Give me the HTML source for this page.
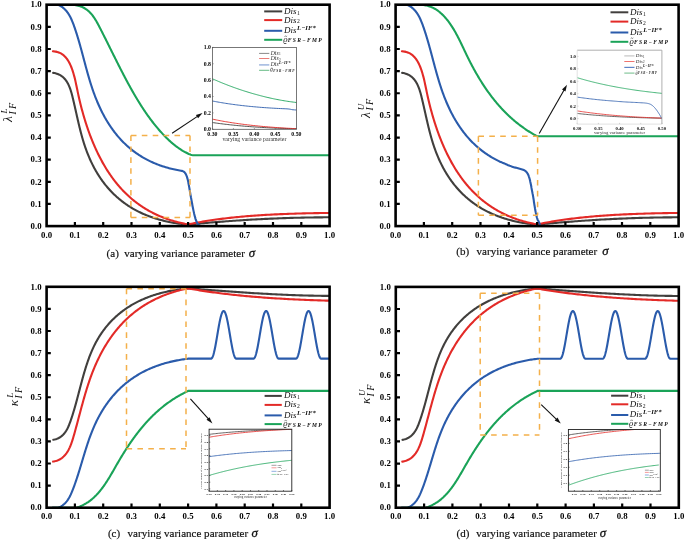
<!DOCTYPE html>
<html><head><meta charset="utf-8"><title>figure</title><style>
html,body{margin:0;padding:0;background:#fff;overflow:hidden;}
svg{display:block;}
text{font-family:"Liberation Serif","DejaVu Serif",serif;fill:#111;}
.tk{font-weight:bold;font-size:8.8px;fill:#000;}
.itk{font-weight:bold;fill:#000;}
.lg{font-style:italic;}
.yl{font-style:italic;font-size:13.5px;}
.cap{font-size:11px;fill:#111;stroke:#111;stroke-width:0.18px;}
.sig{font-style:italic;font-size:12.8px;stroke-width:0.3px;}
.ixl{fill:#333;}
.ilg{font-style:italic;fill:#222;}
</style></head><body><svg width="685" height="541" viewBox="0 0 685 541">
<rect width="685" height="541" fill="#fff"/>
<clipPath id="clipa"><rect x="46.60" y="4.70" width="283.00" height="221.40"/></clipPath>
<g clip-path="url(#clipa)" fill="none" stroke-width="2.1" stroke-linejoin="round" stroke-linecap="round">
<path stroke="#413f3d" d="M53.13 72.87L54.36 73.08L55.54 73.34L56.67 73.66L57.74 74.03L58.75 74.45L59.72 74.92L60.64 75.44L61.52 76.01L62.35 76.62L63.13 77.28L63.88 77.97L64.58 78.71L65.25 79.48L65.88 80.29L66.47 81.14L67.04 82.01L67.57 82.92L68.07 83.86L68.55 84.82L69.00 85.81L69.43 86.83L69.83 87.86L70.22 88.92L70.58 89.99L70.93 91.08L71.27 92.19L71.59 93.31L71.90 94.44L72.19 95.59L72.48 96.74L72.77 97.89L73.05 99.05L73.32 100.22L73.60 101.39L73.87 102.55L74.14 103.72L74.41 104.90L74.68 106.07L74.94 107.24L75.21 108.42L75.47 109.60L75.74 110.77L76.00 111.95L76.27 113.13L76.53 114.30L76.79 115.48L77.06 116.65L77.33 117.83L77.59 119.00L77.86 120.17L78.13 121.34L78.40 122.51L78.68 123.68L78.95 124.84L79.23 126.01L79.51 127.16L79.80 128.32L80.09 129.47L80.38 130.62L80.67 131.77L80.97 132.91L81.27 134.05L81.58 135.19L81.89 136.32L82.20 137.44L82.52 138.56L82.85 139.68L83.18 140.79L83.51 141.89L83.86 142.99L84.20 144.09L84.56 145.17L84.92 146.25L85.29 147.33L85.66 148.39L86.04 149.46L86.42 150.51L86.82 151.56L87.21 152.60L87.62 153.64L88.03 154.67L88.45 155.69L88.87 156.70L89.30 157.71L89.74 158.72L90.19 159.71L90.64 160.70L91.09 161.69L91.56 162.66L92.03 163.63L92.51 164.60L92.99 165.55L93.48 166.50L93.98 167.45L94.48 168.38L95.00 169.31L95.51 170.23L96.04 171.15L96.57 172.06L97.11 172.96L97.65 173.86L98.21 174.75L98.77 175.63L99.33 176.50L99.91 177.37L100.49 178.23L101.07 179.08L101.67 179.93L102.27 180.77L102.88 181.60L103.49 182.42L104.12 183.24L104.75 184.05L105.38 184.86L106.03 185.65L106.68 186.44L107.34 187.22L108.01 188.00L108.68 188.76L109.36 189.52L110.05 190.28L110.74 191.02L111.45 191.76L112.16 192.49L112.87 193.21L113.60 193.93L114.33 194.64L115.07 195.34L115.82 196.03L116.57 196.72L117.34 197.39L118.11 198.07L118.89 198.73L119.67 199.38L120.46 200.03L121.26 200.67L122.07 201.30L122.89 201.93L123.71 202.54L124.54 203.15L125.38 203.75L126.23 204.35L127.09 204.93L127.95 205.51L128.82 206.08L129.70 206.64L130.59 207.20L131.48 207.74L132.38 208.28L133.29 208.81L134.21 209.34L135.14 209.85L136.07 210.36L137.01 210.86L137.96 211.35L138.92 211.83L139.89 212.30L140.86 212.77L141.85 213.23L142.84 213.68L143.84 214.12L144.84 214.55L145.86 214.97L146.88 215.39L147.92 215.80L148.96 216.20L150.01 216.59L151.06 216.97L152.13 217.35L153.20 217.72L154.29 218.07L155.38 218.42L156.48 218.77L157.58 219.10L158.70 219.42L159.82 219.74L160.96 220.05L162.10 220.35L163.25 220.64L164.41 220.92L165.58 221.19L166.75 221.45L167.94 221.71L169.13 221.96L170.34 222.19L171.55 222.42L172.77 222.64L174.00 222.86L175.23 223.06L176.48 223.25L177.74 223.44L179.00 223.62L180.27 223.78L181.55 223.94L182.85 224.09L184.15 224.23L185.45 224.36L186.77 224.49L188.10 224.60L188.11 224.61L189.83 224.44L191.54 224.28L193.26 224.11L194.98 223.95L196.71 223.79L198.43 223.63L200.16 223.47L201.88 223.32L203.61 223.16L205.34 223.01L207.08 222.86L208.81 222.71L210.55 222.56L212.28 222.42L214.02 222.27L215.77 222.13L217.51 221.99L219.25 221.85L221.00 221.71L222.75 221.58L224.50 221.44L226.25 221.31L228.01 221.18L229.76 221.06L231.52 220.93L233.28 220.81L235.04 220.68L236.80 220.56L238.57 220.45L240.34 220.33L242.11 220.22L243.88 220.10L245.65 219.99L247.43 219.89L249.20 219.78L250.98 219.67L252.76 219.57L254.55 219.47L256.33 219.37L258.12 219.28L259.91 219.19L261.70 219.09L263.50 219.00L265.29 218.92L267.09 218.83L268.89 218.75L270.69 218.67L272.50 218.59L274.31 218.51L276.11 218.44L277.93 218.37L279.74 218.30L281.56 218.23L283.37 218.16L285.19 218.10L287.02 218.04L288.84 217.98L290.67 217.92L292.50 217.87L294.33 217.82L296.17 217.77L298.00 217.72L299.84 217.68L301.68 217.64L303.53 217.60L305.37 217.56L307.22 217.53L309.07 217.49L310.93 217.46L312.78 217.44L314.64 217.41L316.50 217.39L318.37 217.37L320.23 217.35L322.10 217.34L323.97 217.32L325.85 217.32L327.72 217.31L329.60 217.30"/>
<path stroke="#e32a27" d="M52.91 51.29L54.33 51.42L55.68 51.62L56.95 51.89L58.15 52.24L59.29 52.66L60.35 53.14L61.36 53.68L62.30 54.29L63.20 54.94L64.04 55.65L64.83 56.41L65.58 57.21L66.28 58.05L66.95 58.93L67.58 59.85L68.18 60.80L68.76 61.77L69.31 62.77L69.83 63.80L70.33 64.85L70.81 65.92L71.26 67.01L71.70 68.12L72.11 69.26L72.51 70.40L72.90 71.57L73.26 72.75L73.61 73.95L73.95 75.16L74.28 76.38L74.59 77.62L74.90 78.86L75.20 80.11L75.49 81.37L75.77 82.64L76.04 83.91L76.32 85.19L76.59 86.47L76.85 87.75L77.12 89.03L77.39 90.31L77.65 91.59L77.92 92.87L78.20 94.15L78.47 95.42L78.76 96.69L79.04 97.95L79.33 99.21L79.62 100.46L79.92 101.72L80.22 102.96L80.53 104.21L80.84 105.44L81.15 106.68L81.47 107.91L81.79 109.14L82.12 110.36L82.45 111.58L82.79 112.79L83.13 114.00L83.47 115.20L83.82 116.40L84.17 117.60L84.53 118.79L84.89 119.98L85.25 121.16L85.62 122.34L86.00 123.52L86.38 124.69L86.76 125.85L87.15 127.01L87.54 128.17L87.94 129.32L88.34 130.47L88.75 131.61L89.16 132.75L89.57 133.88L89.99 135.01L90.42 136.13L90.85 137.25L91.28 138.37L91.72 139.48L92.17 140.58L92.61 141.68L93.07 142.78L93.53 143.87L93.99 144.95L94.46 146.03L94.93 147.11L95.41 148.18L95.89 149.24L96.38 150.30L96.87 151.36L97.37 152.41L97.88 153.45L98.39 154.49L98.90 155.53L99.42 156.56L99.94 157.58L100.47 158.60L101.01 159.61L101.55 160.62L102.10 161.62L102.65 162.62L103.21 163.61L103.77 164.59L104.34 165.57L104.92 166.54L105.50 167.51L106.09 168.47L106.68 169.43L107.28 170.38L107.89 171.32L108.50 172.26L109.12 173.19L109.74 174.11L110.37 175.03L111.01 175.94L111.65 176.85L112.30 177.75L112.96 178.64L113.62 179.53L114.29 180.41L114.96 181.28L115.64 182.15L116.33 183.01L117.03 183.86L117.73 184.71L118.44 185.55L119.16 186.38L119.88 187.21L120.61 188.02L121.35 188.84L122.09 189.64L122.84 190.44L123.60 191.23L124.37 192.01L125.14 192.79L125.92 193.55L126.71 194.32L127.50 195.07L128.31 195.82L129.12 196.55L129.93 197.28L130.76 198.01L131.59 198.72L132.43 199.43L133.28 200.13L134.14 200.82L135.00 201.51L135.87 202.19L136.76 202.85L137.64 203.51L138.54 204.17L139.44 204.81L140.36 205.45L141.28 206.08L142.21 206.70L143.14 207.31L144.09 207.91L145.04 208.51L146.01 209.09L146.98 209.67L147.96 210.24L148.94 210.80L149.94 211.35L150.95 211.89L151.96 212.43L152.98 212.95L154.01 213.47L155.06 213.98L156.11 214.48L157.16 214.97L158.23 215.45L159.31 215.92L160.39 216.38L161.49 216.84L162.59 217.28L163.71 217.72L164.83 218.14L165.96 218.56L167.10 218.97L168.25 219.37L169.42 219.75L170.59 220.13L171.77 220.50L172.96 220.86L174.15 221.21L175.36 221.55L176.58 221.88L177.81 222.20L179.05 222.51L180.30 222.81L181.56 223.10L182.83 223.38L184.10 223.65L185.39 223.91L186.69 224.16L188.00 224.40L188.06 224.46L189.65 224.12L191.26 223.78L192.87 223.45L194.49 223.13L196.11 222.82L197.74 222.51L199.38 222.21L201.02 221.92L202.67 221.63L204.33 221.35L205.99 221.08L207.66 220.81L209.34 220.54L211.02 220.29L212.71 220.04L214.40 219.79L216.10 219.55L217.80 219.32L219.51 219.09L221.23 218.87L222.95 218.65L224.68 218.44L226.41 218.23L228.14 218.03L229.89 217.84L231.64 217.65L233.39 217.46L235.15 217.28L236.91 217.11L238.68 216.94L240.45 216.77L242.22 216.61L244.01 216.45L245.79 216.30L247.58 216.15L249.38 216.01L251.17 215.87L252.98 215.73L254.79 215.60L256.60 215.48L258.41 215.35L260.23 215.24L262.05 215.12L263.88 215.01L265.71 214.90L267.55 214.80L269.38 214.70L271.22 214.60L273.07 214.51L274.92 214.42L276.77 214.33L278.62 214.25L280.48 214.17L282.34 214.09L284.20 214.01L286.07 213.94L287.94 213.87L289.81 213.81L291.68 213.74L293.56 213.68L295.44 213.62L297.32 213.57L299.20 213.51L301.09 213.46L302.98 213.41L304.87 213.36L306.76 213.32L308.66 213.27L310.55 213.23L312.45 213.19L314.35 213.15L316.25 213.12L318.15 213.08L320.06 213.05L321.96 213.02L323.87 212.99L325.78 212.96L327.69 212.93L329.60 212.90"/>
<path stroke="#2a5bab" d="M52.50 4.80L57.50 4.80L57.67 4.63L58.69 5.06L59.68 5.53L60.62 6.05L61.52 6.60L62.38 7.19L63.20 7.83L63.99 8.49L64.74 9.20L65.46 9.93L66.14 10.70L66.80 11.50L67.43 12.32L68.03 13.18L68.61 14.05L69.16 14.96L69.69 15.88L70.19 16.83L70.68 17.79L71.15 18.78L71.61 19.78L72.04 20.79L72.47 21.82L72.88 22.87L73.28 23.92L73.68 24.98L74.06 26.05L74.44 27.12L74.82 28.20L75.19 29.29L75.55 30.38L75.91 31.47L76.27 32.57L76.62 33.67L76.97 34.78L77.31 35.89L77.65 37.00L77.99 38.12L78.32 39.24L78.65 40.36L78.98 41.49L79.31 42.62L79.63 43.75L79.95 44.88L80.27 46.02L80.58 47.16L80.90 48.30L81.21 49.44L81.52 50.58L81.83 51.73L82.14 52.88L82.45 54.02L82.75 55.17L83.06 56.32L83.36 57.47L83.67 58.62L83.97 59.77L84.28 60.91L84.59 62.06L84.89 63.21L85.20 64.36L85.51 65.50L85.81 66.65L86.12 67.79L86.44 68.94L86.75 70.08L87.06 71.22L87.38 72.36L87.70 73.49L88.02 74.63L88.34 75.76L88.67 76.89L89.00 78.01L89.33 79.13L89.66 80.25L90.00 81.37L90.34 82.48L90.69 83.59L91.04 84.70L91.39 85.80L91.75 86.90L92.11 87.99L92.47 89.08L92.84 90.16L93.22 91.24L93.60 92.31L93.99 93.38L94.38 94.44L94.77 95.50L95.17 96.56L95.58 97.60L95.99 98.65L96.41 99.68L96.83 100.72L97.26 101.74L97.69 102.76L98.13 103.78L98.57 104.79L99.02 105.80L99.48 106.79L99.94 107.79L100.41 108.78L100.88 109.76L101.36 110.73L101.84 111.71L102.33 112.67L102.82 113.63L103.32 114.58L103.83 115.53L104.35 116.47L104.86 117.41L105.39 118.33L105.92 119.26L106.46 120.17L107.00 121.08L107.55 121.99L108.11 122.88L108.68 123.77L109.24 124.66L109.82 125.54L110.40 126.41L110.99 127.27L111.59 128.13L112.19 128.98L112.80 129.83L113.42 130.67L114.04 131.50L114.67 132.32L115.31 133.14L115.95 133.95L116.60 134.75L117.26 135.55L117.92 136.34L118.60 137.12L119.28 137.90L119.96 138.66L120.66 139.43L121.36 140.18L122.07 140.92L122.78 141.66L123.50 142.39L124.23 143.12L124.97 143.83L125.72 144.54L126.47 145.24L127.23 145.94L128.00 146.62L128.78 147.30L129.56 147.97L130.36 148.63L131.16 149.28L131.96 149.93L132.78 150.57L133.60 151.20L134.44 151.82L135.28 152.43L136.13 153.04L136.98 153.64L137.85 154.23L138.72 154.81L139.60 155.38L140.49 155.94L141.39 156.50L142.30 157.05L143.22 157.58L144.14 158.11L145.07 158.64L146.01 159.15L146.96 159.65L147.92 160.15L148.89 160.63L149.87 161.11L150.85 161.58L151.85 162.04L152.85 162.49L153.87 162.93L154.89 163.36L155.92 163.79L156.96 164.20L158.01 164.61L159.07 165.00L160.13 165.39L161.21 165.77L162.30 166.13L163.39 166.49L164.50 166.84L165.62 167.18L166.74 167.51L167.87 167.83L169.02 168.14L170.17 168.44L171.34 168.73L172.51 169.01L173.69 169.28L174.89 169.54L176.09 169.79L177.30 170.03L178.53 170.27L179.76 170.49L181.00 170.70L181.00 170.70L181.77 170.86L182.48 171.09L183.14 171.37L183.74 171.70L184.27 172.10L184.75 172.56L185.16 173.09L185.52 173.66L185.87 174.25L186.17 174.88L186.44 175.55L186.70 176.23L186.95 176.91L187.18 177.62L187.38 178.35L187.57 179.10L187.76 179.84L187.94 180.60L188.11 181.36L188.27 182.14L188.40 182.95L188.55 183.73L188.70 184.52L188.85 185.30L188.99 186.09L189.14 186.88L189.28 187.68L189.42 188.47L189.56 189.27L189.70 190.06L189.84 190.86L189.97 191.66L190.10 192.47L190.23 193.27L190.37 194.07L190.51 194.86L190.65 195.66L190.80 196.45L190.94 197.24L191.10 198.02L191.24 198.81L191.39 199.60L191.53 200.39L191.68 201.18L191.82 201.97L191.97 202.76L192.10 203.57L192.25 204.35L192.39 205.14L192.54 205.93L192.69 206.71L192.85 207.50L193.00 208.28L193.15 209.07L193.31 209.84L193.47 210.61L193.64 211.38L193.81 212.14L193.99 212.91L194.15 213.68L194.33 214.43L194.52 215.18L194.71 215.92L194.91 216.65L195.12 217.38L195.30 218.14L195.51 218.86L195.75 219.56L196.00 220.25L196.27 220.91L196.54 221.57L196.84 222.21L197.17 222.82L197.52 223.40L197.90 223.96L198.31 224.48L198.77 224.96L199.26 225.40L199.80 225.80"/>
<path stroke="#1aa358" d="M52.50 4.75L72.00 4.75L72.02 4.73L73.32 4.83L74.59 4.96L75.81 5.14L76.99 5.36L78.12 5.63L79.22 5.93L80.28 6.27L81.30 6.65L82.28 7.07L83.23 7.52L84.14 8.00L85.03 8.52L85.88 9.07L86.70 9.65L87.49 10.26L88.26 10.89L88.99 11.55L89.71 12.24L90.40 12.95L91.07 13.68L91.71 14.43L92.34 15.21L92.94 16.00L93.53 16.81L94.11 17.64L94.67 18.48L95.21 19.33L95.74 20.20L96.26 21.08L96.77 21.97L97.28 22.87L97.77 23.77L98.26 24.68L98.74 25.60L99.22 26.52L99.70 27.44L100.17 28.37L100.65 29.29L101.12 30.22L101.59 31.15L102.06 32.08L102.53 33.00L103.01 33.93L103.47 34.86L103.94 35.79L104.41 36.73L104.88 37.66L105.35 38.59L105.82 39.52L106.28 40.46L106.75 41.39L107.21 42.32L107.68 43.26L108.14 44.19L108.61 45.13L109.07 46.06L109.54 47.00L110.00 47.93L110.47 48.87L110.93 49.80L111.40 50.74L111.86 51.67L112.33 52.61L112.79 53.54L113.26 54.48L113.72 55.41L114.19 56.34L114.66 57.28L115.12 58.21L115.59 59.14L116.06 60.08L116.52 61.01L116.99 61.94L117.46 62.87L117.93 63.80L118.40 64.73L118.87 65.66L119.34 66.59L119.81 67.52L120.28 68.45L120.76 69.37L121.23 70.30L121.71 71.22L122.18 72.15L122.66 73.07L123.14 73.99L123.62 74.91L124.10 75.83L124.58 76.75L125.06 77.67L125.54 78.58L126.03 79.50L126.51 80.41L127.00 81.32L127.49 82.23L127.98 83.14L128.47 84.05L128.97 84.96L129.46 85.86L129.96 86.76L130.46 87.67L130.96 88.56L131.46 89.46L131.97 90.36L132.47 91.25L132.98 92.14L133.49 93.03L134.00 93.92L134.52 94.81L135.03 95.69L135.55 96.57L136.07 97.45L136.60 98.32L137.12 99.20L137.65 100.07L138.18 100.94L138.71 101.81L139.25 102.67L139.79 103.53L140.33 104.39L140.87 105.25L141.42 106.10L141.97 106.95L142.52 107.80L143.07 108.65L143.63 109.49L144.19 110.33L144.75 111.16L145.32 112.00L145.89 112.83L146.46 113.65L147.04 114.48L147.62 115.30L148.20 116.11L148.79 116.93L149.38 117.74L149.97 118.54L150.57 119.35L151.17 120.15L151.77 120.94L152.38 121.74L152.99 122.52L153.61 123.31L154.22 124.09L154.85 124.87L155.47 125.64L156.10 126.41L156.74 127.18L157.38 127.94L158.02 128.69L158.67 129.45L159.32 130.20L159.97 130.94L160.63 131.68L161.29 132.42L161.96 133.15L162.64 133.88L163.31 134.60L163.99 135.32L164.68 136.03L165.37 136.74L166.07 137.44L166.77 138.14L167.48 138.83L168.19 139.52L168.91 140.20L169.64 140.87L170.37 141.54L171.11 142.20L171.86 142.85L172.61 143.50L173.37 144.13L174.15 144.76L174.92 145.38L175.71 145.99L176.51 146.60L177.32 147.19L178.13 147.77L178.96 148.35L179.79 148.91L180.64 149.46L181.50 150.01L182.37 150.54L183.24 151.06L184.14 151.57L185.04 152.07L185.95 152.55L186.88 153.03L187.82 153.49L188.77 153.93L189.75 154.35L190.77 154.74L191.83 155.07L192.96 155.30L194.17 155.30L195.46 155.30L196.85 155.30L198.36 155.30L199.99 155.30L200.00 155.30L329.60 155.30"/>
</g>
<path d="M130.90 135.50H190.00M130.90 217.60H190.00M130.90 135.50V217.60M190.00 135.50V217.60" fill="none" stroke="#f4b04a" stroke-width="1.5" stroke-dasharray="5.6 5.3"/>
<path d="M74.90 226.10V221.90M46.60 203.96H50.80M103.20 226.10V221.90M46.60 181.82H50.80M131.50 226.10V221.90M46.60 159.68H50.80M159.80 226.10V221.90M46.60 137.54H50.80M188.10 226.10V221.90M46.60 115.40H50.80M216.40 226.10V221.90M46.60 93.26H50.80M244.70 226.10V221.90M46.60 71.12H50.80M273.00 226.10V221.90M46.60 48.98H50.80M301.30 226.10V221.90M46.60 26.84H50.80" stroke="#000" stroke-width="2.2" fill="none"/>
<rect x="46.60" y="4.70" width="283.00" height="221.40" fill="none" stroke="#000" stroke-width="2.6"/>
<text class="tk" x="46.60" y="237.70" text-anchor="middle">0.0</text>
<text class="tk" x="41.60" y="228.80" text-anchor="end">0.0</text>
<text class="tk" x="74.90" y="237.70" text-anchor="middle">0.1</text>
<text class="tk" x="41.60" y="206.66" text-anchor="end">0.1</text>
<text class="tk" x="103.20" y="237.70" text-anchor="middle">0.2</text>
<text class="tk" x="41.60" y="184.52" text-anchor="end">0.2</text>
<text class="tk" x="131.50" y="237.70" text-anchor="middle">0.3</text>
<text class="tk" x="41.60" y="162.38" text-anchor="end">0.3</text>
<text class="tk" x="159.80" y="237.70" text-anchor="middle">0.4</text>
<text class="tk" x="41.60" y="140.24" text-anchor="end">0.4</text>
<text class="tk" x="188.10" y="237.70" text-anchor="middle">0.5</text>
<text class="tk" x="41.60" y="118.10" text-anchor="end">0.5</text>
<text class="tk" x="216.40" y="237.70" text-anchor="middle">0.6</text>
<text class="tk" x="41.60" y="95.96" text-anchor="end">0.6</text>
<text class="tk" x="244.70" y="237.70" text-anchor="middle">0.7</text>
<text class="tk" x="41.60" y="73.82" text-anchor="end">0.7</text>
<text class="tk" x="273.00" y="237.70" text-anchor="middle">0.8</text>
<text class="tk" x="41.60" y="51.68" text-anchor="end">0.8</text>
<text class="tk" x="301.30" y="237.70" text-anchor="middle">0.9</text>
<text class="tk" x="41.60" y="29.54" text-anchor="end">0.9</text>
<text class="tk" x="329.60" y="237.70" text-anchor="middle">1.0</text>
<text class="tk" x="41.60" y="7.40" text-anchor="end">1.0</text>
<path d="M264.20 11.40H282.20" stroke="#413f3d" stroke-width="2.00"/>
<path d="M264.20 20.10H282.20" stroke="#e32a27" stroke-width="2.00"/>
<path d="M264.20 30.80H282.20" stroke="#2a5bab" stroke-width="2.00"/>
<path d="M264.20 39.80H282.20" stroke="#1aa358" stroke-width="2.00"/>
<text class="lg" x="283.90" y="13.80" style="font-size:9.00px">Dis<tspan dx="0.50" dy="0.90" style="font-size:5.60px;font-style:normal">1</tspan></text>
<text class="lg" x="283.90" y="22.50" style="font-size:9.00px">Dis<tspan dx="0.50" dy="0.90" style="font-size:5.60px;font-style:normal">2</tspan></text>
<text class="lg" x="283.90" y="33.00" style="font-size:9.00px">Dis<tspan dx="0.60" dy="-3.10" style="font-size:6.60px;letter-spacing:0.10px;font-weight:bold">L−IF*</tspan></text>
<text class="lg" x="283.20" y="41.50" style="font-size:8.55px">ϱ<tspan dx="0.30" dy="0.80" style="font-size:5.60px;letter-spacing:1.30px;font-weight:bold">FSR−FMP</tspan></text>
<path d="M284.50 36.50q0.60 -0.90 1.30 -0.30t1.30 -0.30" fill="none" stroke="#222" stroke-width="0.55"/>
<rect x="212.40" y="47.40" width="84.00" height="81.90" fill="#fff"/>
<clipPath id="ica"><rect x="212.40" y="47.40" width="84.00" height="81.90"/></clipPath>
<g clip-path="url(#ica)" fill="none" stroke-width="0.90">
<path stroke="#413f3d" d="M192.52 118.93L193.68 119.17L194.84 119.42L196.02 119.66L197.21 119.89L198.41 120.13L199.62 120.36L200.84 120.59L202.08 120.81L203.32 121.03L204.58 121.25L205.85 121.47L207.13 121.68L208.42 121.89L209.73 122.10L211.04 122.31L212.37 122.51L213.71 122.71L215.06 122.91L216.42 123.10L217.80 123.29L219.18 123.48L220.58 123.66L221.99 123.84L223.42 124.02L224.85 124.20L226.30 124.37L227.76 124.54L229.23 124.70L230.71 124.87L232.20 125.03L233.71 125.18L235.23 125.34L236.76 125.49L238.31 125.64L239.86 125.78L241.43 125.92L243.02 126.06L244.61 126.20L246.22 126.33L247.83 126.46L249.47 126.59L251.11 126.71L252.77 126.83L254.44 126.95L256.12 127.06L257.81 127.17L259.52 127.28L261.24 127.38L262.97 127.48L264.72 127.58L266.48 127.68L268.25 127.77L270.04 127.86L271.83 127.94L273.64 128.02L275.47 128.10L277.30 128.18L279.15 128.25L281.02 128.32L282.89 128.38L284.78 128.44L286.69 128.50L288.60 128.56L290.53 128.61L292.47 128.66L294.43 128.70L296.40 128.75L296.41 128.75L298.96 128.69L301.51 128.63L304.06 128.56L306.62 128.50L309.17 128.45L311.73 128.39L314.29 128.33L316.86 128.27"/>
<path stroke="#e32a27" d="M191.97 113.99L193.02 114.30L194.08 114.61L195.15 114.91L196.24 115.21L197.33 115.52L198.44 115.81L199.55 116.11L200.68 116.40L201.81 116.69L202.96 116.98L204.12 117.26L205.29 117.54L206.47 117.82L207.66 118.10L208.86 118.37L210.08 118.64L211.30 118.91L212.54 119.17L213.79 119.43L215.04 119.69L216.32 119.95L217.60 120.20L218.89 120.45L220.20 120.70L221.52 120.95L222.85 121.19L224.19 121.43L225.54 121.66L226.91 121.89L228.29 122.12L229.68 122.35L231.08 122.57L232.50 122.79L233.93 123.01L235.37 123.22L236.82 123.43L238.29 123.64L239.77 123.84L241.26 124.05L242.76 124.24L244.28 124.44L245.81 124.63L247.36 124.82L248.92 125.00L250.49 125.18L252.07 125.36L253.67 125.53L255.28 125.71L256.91 125.87L258.55 126.04L260.20 126.20L261.86 126.36L263.55 126.51L265.24 126.66L266.95 126.81L268.67 126.95L270.41 127.09L272.16 127.23L273.92 127.36L275.70 127.49L277.50 127.62L279.31 127.74L281.13 127.86L282.97 127.97L284.82 128.08L286.69 128.19L288.57 128.29L290.47 128.39L292.38 128.49L294.31 128.58L296.25 128.67L296.34 128.69L298.71 128.57L301.09 128.44L303.48 128.32L305.88 128.20L308.29 128.09L310.71 127.97L313.14 127.86L315.58 127.75"/>
<path stroke="#2a5bab" d="M192.25 96.10L193.25 96.39L194.26 96.67L195.28 96.96L196.31 97.24L197.35 97.52L198.40 97.79L199.46 98.07L200.53 98.34L201.62 98.60L202.71 98.87L203.82 99.13L204.94 99.39L206.07 99.65L207.21 99.90L208.36 100.15L209.53 100.40L210.70 100.64L211.89 100.88L213.09 101.12L214.30 101.36L215.52 101.59L216.76 101.82L218.01 102.05L219.27 102.27L220.54 102.49L221.82 102.71L223.12 102.93L224.43 103.14L225.75 103.35L227.08 103.55L228.43 103.76L229.79 103.95L231.16 104.15L232.54 104.34L233.94 104.53L235.35 104.72L236.77 104.90L238.21 105.08L239.66 105.26L241.12 105.43L242.60 105.60L244.09 105.77L245.59 105.93L247.11 106.09L248.64 106.25L250.18 106.40L251.74 106.55L253.31 106.70L254.90 106.84L256.50 106.98L258.11 107.12L259.73 107.25L261.38 107.38L263.03 107.50L264.70 107.63L266.38 107.74L268.08 107.86L269.79 107.97L271.52 108.08L273.26 108.18L275.02 108.28L276.79 108.38L278.58 108.47L280.38 108.56L282.19 108.65L284.02 108.73L285.87 108.81L285.86 108.81L287.01 108.87L288.07 108.95L289.04 109.05L289.93 109.18L290.72 109.33L291.43 109.50L292.03 109.69L294.30 109.86L296.40 110.02L300.60 110.18"/>
<path stroke="#1aa358" d="M191.56 68.92L192.26 69.26L192.96 69.61L193.65 69.95L194.35 70.29L195.05 70.64L195.75 70.98L196.46 71.32L197.16 71.67L197.87 72.01L198.57 72.35L199.28 72.69L199.99 73.03L200.70 73.37L201.41 73.71L202.13 74.05L202.84 74.39L203.56 74.73L204.28 75.07L205.00 75.41L205.73 75.74L206.45 76.08L207.18 76.42L207.91 76.75L208.64 77.09L209.38 77.42L210.12 77.76L210.86 78.09L211.60 78.42L212.34 78.75L213.09 79.09L213.84 79.42L214.60 79.75L215.35 80.08L216.11 80.40L216.88 80.73L217.64 81.06L218.41 81.38L219.19 81.71L219.96 82.03L220.74 82.36L221.53 82.68L222.31 83.00L223.11 83.32L223.90 83.64L224.70 83.96L225.50 84.28L226.31 84.59L227.12 84.91L227.93 85.23L228.75 85.54L229.58 85.85L230.40 86.16L231.23 86.47L232.07 86.78L232.91 87.09L233.76 87.40L234.61 87.70L235.46 88.01L236.32 88.31L237.19 88.61L238.06 88.91L238.93 89.21L239.81 89.51L240.70 89.81L241.59 90.11L242.49 90.40L243.39 90.69L244.29 90.99L245.21 91.28L246.12 91.56L247.05 91.85L247.98 92.14L248.91 92.42L249.86 92.71L250.80 92.99L251.76 93.27L252.72 93.55L253.68 93.82L254.65 94.10L255.63 94.37L256.62 94.64L257.61 94.92L258.61 95.18L259.61 95.45L260.62 95.72L261.64 95.98L262.67 96.24L263.70 96.50L264.74 96.76L265.79 97.02L266.85 97.27L267.92 97.52L269.00 97.77L270.08 98.02L271.18 98.26L272.29 98.50L273.41 98.74L274.55 98.98L275.69 99.21L276.85 99.44L278.02 99.67L279.20 99.89L280.40 100.11L281.61 100.33L282.83 100.54L284.07 100.75L285.33 100.95L286.60 101.15L287.89 101.35L289.19 101.54L290.52 101.73L291.85 101.91L293.21 102.09L294.59 102.27L295.98 102.44L297.39 102.60L298.85 102.76L300.36 102.90L301.94 103.02L303.62 103.11L305.41 103.11L307.33 103.11L309.39 103.11L311.63 103.11L314.05 103.11L314.06 103.11"/>
</g>
<path d="M259.10 53.40H269.30" stroke="#6a6a6a" stroke-width="0.80"/>
<path d="M259.10 58.50H269.30" stroke="#e45a55" stroke-width="0.80"/>
<path d="M259.10 64.90H269.30" stroke="#9fb6df" stroke-width="1.50"/>
<path d="M259.10 70.30H269.30" stroke="#3fa865" stroke-width="0.80"/>
<text class="ilg" x="270.80" y="54.89" style="font-size:5.60px">Dis<tspan dx="0.31" dy="0.56" style="font-size:3.48px;font-style:normal">1</tspan></text>
<text class="ilg" x="270.80" y="59.99" style="font-size:5.60px">Dis<tspan dx="0.31" dy="0.56" style="font-size:3.48px;font-style:normal">2</tspan></text>
<text class="ilg" x="270.80" y="66.27" style="font-size:5.60px">Dis<tspan dx="0.37" dy="-1.93" style="font-size:4.11px;letter-spacing:0.06px;font-weight:bold">L−IF*</tspan></text>
<text class="ilg" x="270.36" y="71.36" style="font-size:5.32px">ϱ<tspan dx="0.19" dy="0.50" style="font-size:3.48px;letter-spacing:0.81px;font-weight:bold">FSR−FMP</tspan></text>
<path d="M271.17 68.25q0.37 -0.56 0.81 -0.19t0.81 -0.19" fill="none" stroke="#222" stroke-width="0.34"/>
<path d="M212.40 129.30V128.10M233.40 129.30V128.10M254.40 129.30V128.10M275.40 129.30V128.10M296.40 129.30V128.10M212.40 129.30H213.60M212.40 112.92H213.60M212.40 96.54H213.60M212.40 80.16H213.60M212.40 63.78H213.60M212.40 47.40H213.60" stroke="#555" stroke-width="0.6" fill="none"/>
<rect x="212.40" y="47.40" width="84.00" height="81.90" fill="none" stroke="#555" stroke-width="0.80"/>
<text class="itk" x="212.40" y="135.80" text-anchor="middle" style="font-size:5.80px">0.30</text>
<text class="itk" x="233.40" y="135.80" text-anchor="middle" style="font-size:5.80px">0.35</text>
<text class="itk" x="254.40" y="135.80" text-anchor="middle" style="font-size:5.80px">0.40</text>
<text class="itk" x="275.40" y="135.80" text-anchor="middle" style="font-size:5.80px">0.45</text>
<text class="itk" x="296.40" y="135.80" text-anchor="middle" style="font-size:5.80px">0.50</text>
<text class="itk" x="210.95" y="131.21" text-anchor="end" style="font-size:5.80px">0.0</text>
<text class="itk" x="210.95" y="114.83" text-anchor="end" style="font-size:5.80px">0.2</text>
<text class="itk" x="210.95" y="98.45" text-anchor="end" style="font-size:5.80px">0.4</text>
<text class="itk" x="210.95" y="82.07" text-anchor="end" style="font-size:5.80px">0.6</text>
<text class="itk" x="210.95" y="65.69" text-anchor="end" style="font-size:5.80px">0.8</text>
<text class="itk" x="210.95" y="49.31" text-anchor="end" style="font-size:5.80px">1.0</text>
<text class="ixl" x="254.40" y="141.30" text-anchor="middle" style="font-size:5.85px">varying variance parameter</text>
<path d="M172.10 133.30L197.84 116.11" stroke="#111" stroke-width="1.1" fill="none"/>
<path d="M202.50 113.00L198.12 118.33L195.90 115.00Z" fill="#111"/>
<clipPath id="clipb"><rect x="395.60" y="4.70" width="283.00" height="221.40"/></clipPath>
<g clip-path="url(#clipb)" fill="none" stroke-width="2.1" stroke-linejoin="round" stroke-linecap="round">
<path stroke="#413f3d" d="M402.13 72.87L403.36 73.08L404.54 73.34L405.67 73.66L406.74 74.03L407.75 74.45L408.72 74.92L409.64 75.44L410.52 76.01L411.35 76.62L412.13 77.28L412.88 77.97L413.58 78.71L414.25 79.48L414.88 80.29L415.47 81.14L416.04 82.01L416.57 82.92L417.07 83.86L417.55 84.82L418.00 85.81L418.43 86.83L418.83 87.86L419.22 88.92L419.58 89.99L419.93 91.08L420.27 92.19L420.59 93.31L420.90 94.44L421.19 95.59L421.48 96.74L421.77 97.89L422.05 99.05L422.32 100.22L422.60 101.39L422.87 102.55L423.14 103.72L423.41 104.90L423.68 106.07L423.94 107.24L424.21 108.42L424.47 109.60L424.74 110.77L425.00 111.95L425.27 113.13L425.53 114.30L425.79 115.48L426.06 116.65L426.33 117.83L426.59 119.00L426.86 120.17L427.13 121.34L427.40 122.51L427.68 123.68L427.95 124.84L428.23 126.01L428.51 127.16L428.80 128.32L429.09 129.47L429.38 130.62L429.67 131.77L429.97 132.91L430.27 134.05L430.58 135.19L430.89 136.32L431.20 137.44L431.52 138.56L431.85 139.68L432.18 140.79L432.51 141.89L432.86 142.99L433.20 144.09L433.56 145.17L433.92 146.25L434.29 147.33L434.66 148.39L435.04 149.46L435.42 150.51L435.82 151.56L436.21 152.60L436.62 153.64L437.03 154.67L437.45 155.69L437.87 156.70L438.30 157.71L438.74 158.72L439.19 159.71L439.64 160.70L440.09 161.69L440.56 162.66L441.03 163.63L441.51 164.60L441.99 165.55L442.48 166.50L442.98 167.45L443.48 168.38L444.00 169.31L444.51 170.23L445.04 171.15L445.57 172.06L446.11 172.96L446.65 173.86L447.21 174.75L447.77 175.63L448.33 176.50L448.91 177.37L449.49 178.23L450.07 179.08L450.67 179.93L451.27 180.77L451.88 181.60L452.49 182.42L453.12 183.24L453.75 184.05L454.38 184.86L455.03 185.65L455.68 186.44L456.34 187.22L457.01 188.00L457.68 188.76L458.36 189.52L459.05 190.28L459.74 191.02L460.45 191.76L461.16 192.49L461.87 193.21L462.60 193.93L463.33 194.64L464.07 195.34L464.82 196.03L465.57 196.72L466.34 197.39L467.11 198.07L467.89 198.73L468.67 199.38L469.46 200.03L470.26 200.67L471.07 201.30L471.89 201.93L472.71 202.54L473.54 203.15L474.38 203.75L475.23 204.35L476.09 204.93L476.95 205.51L477.82 206.08L478.70 206.64L479.59 207.20L480.48 207.74L481.38 208.28L482.29 208.81L483.21 209.34L484.14 209.85L485.07 210.36L486.01 210.86L486.96 211.35L487.92 211.83L488.89 212.30L489.86 212.77L490.85 213.23L491.84 213.68L492.84 214.12L493.84 214.55L494.86 214.97L495.88 215.39L496.92 215.80L497.96 216.20L499.01 216.59L500.06 216.97L501.13 217.35L502.20 217.72L503.29 218.07L504.38 218.42L505.48 218.77L506.58 219.10L507.70 219.42L508.82 219.74L509.96 220.05L511.10 220.35L512.25 220.64L513.41 220.92L514.58 221.19L515.75 221.45L516.94 221.71L518.13 221.96L519.34 222.19L520.55 222.42L521.77 222.64L523.00 222.86L524.23 223.06L525.48 223.25L526.74 223.44L528.00 223.62L529.27 223.78L530.55 223.94L531.85 224.09L533.15 224.23L534.45 224.36L535.77 224.49L537.10 224.60L537.11 224.61L538.83 224.44L540.54 224.28L542.26 224.11L543.98 223.95L545.71 223.79L547.43 223.63L549.16 223.47L550.88 223.32L552.61 223.16L554.34 223.01L556.08 222.86L557.81 222.71L559.55 222.56L561.28 222.42L563.02 222.27L564.77 222.13L566.51 221.99L568.25 221.85L570.00 221.71L571.75 221.58L573.50 221.44L575.25 221.31L577.01 221.18L578.76 221.06L580.52 220.93L582.28 220.81L584.04 220.68L585.80 220.56L587.57 220.45L589.34 220.33L591.11 220.22L592.88 220.10L594.65 219.99L596.43 219.89L598.20 219.78L599.98 219.67L601.76 219.57L603.55 219.47L605.33 219.37L607.12 219.28L608.91 219.19L610.70 219.09L612.50 219.00L614.29 218.92L616.09 218.83L617.89 218.75L619.69 218.67L621.50 218.59L623.31 218.51L625.11 218.44L626.93 218.37L628.74 218.30L630.56 218.23L632.37 218.16L634.19 218.10L636.02 218.04L637.84 217.98L639.67 217.92L641.50 217.87L643.33 217.82L645.17 217.77L647.00 217.72L648.84 217.68L650.68 217.64L652.53 217.60L654.37 217.56L656.22 217.53L658.07 217.49L659.93 217.46L661.78 217.44L663.64 217.41L665.50 217.39L667.37 217.37L669.23 217.35L671.10 217.34L672.97 217.32L674.85 217.32L676.72 217.31L678.60 217.30"/>
<path stroke="#e32a27" d="M401.91 51.29L403.33 51.42L404.68 51.62L405.95 51.89L407.15 52.24L408.29 52.66L409.35 53.14L410.36 53.68L411.30 54.29L412.20 54.94L413.04 55.65L413.83 56.41L414.58 57.21L415.28 58.05L415.95 58.93L416.58 59.85L417.18 60.80L417.76 61.77L418.31 62.77L418.83 63.80L419.33 64.85L419.81 65.92L420.26 67.01L420.70 68.12L421.11 69.26L421.51 70.40L421.90 71.57L422.26 72.75L422.61 73.95L422.95 75.16L423.28 76.38L423.59 77.62L423.90 78.86L424.20 80.11L424.49 81.37L424.77 82.64L425.04 83.91L425.32 85.19L425.59 86.47L425.85 87.75L426.12 89.03L426.39 90.31L426.65 91.59L426.92 92.87L427.20 94.15L427.47 95.42L427.76 96.69L428.04 97.95L428.33 99.21L428.62 100.46L428.92 101.72L429.22 102.96L429.53 104.21L429.84 105.44L430.15 106.68L430.47 107.91L430.79 109.14L431.12 110.36L431.45 111.58L431.79 112.79L432.13 114.00L432.47 115.20L432.82 116.40L433.17 117.60L433.53 118.79L433.89 119.98L434.25 121.16L434.62 122.34L435.00 123.52L435.38 124.69L435.76 125.85L436.15 127.01L436.54 128.17L436.94 129.32L437.34 130.47L437.75 131.61L438.16 132.75L438.57 133.88L438.99 135.01L439.42 136.13L439.85 137.25L440.28 138.37L440.72 139.48L441.17 140.58L441.61 141.68L442.07 142.78L442.53 143.87L442.99 144.95L443.46 146.03L443.93 147.11L444.41 148.18L444.89 149.24L445.38 150.30L445.87 151.36L446.37 152.41L446.88 153.45L447.39 154.49L447.90 155.53L448.42 156.56L448.94 157.58L449.47 158.60L450.01 159.61L450.55 160.62L451.10 161.62L451.65 162.62L452.21 163.61L452.77 164.59L453.34 165.57L453.92 166.54L454.50 167.51L455.09 168.47L455.68 169.43L456.28 170.38L456.89 171.32L457.50 172.26L458.12 173.19L458.74 174.11L459.37 175.03L460.01 175.94L460.65 176.85L461.30 177.75L461.96 178.64L462.62 179.53L463.29 180.41L463.96 181.28L464.64 182.15L465.33 183.01L466.03 183.86L466.73 184.71L467.44 185.55L468.16 186.38L468.88 187.21L469.61 188.02L470.35 188.84L471.09 189.64L471.84 190.44L472.60 191.23L473.37 192.01L474.14 192.79L474.92 193.55L475.71 194.32L476.50 195.07L477.31 195.82L478.12 196.55L478.93 197.28L479.76 198.01L480.59 198.72L481.43 199.43L482.28 200.13L483.14 200.82L484.00 201.51L484.87 202.19L485.76 202.85L486.64 203.51L487.54 204.17L488.44 204.81L489.36 205.45L490.28 206.08L491.21 206.70L492.14 207.31L493.09 207.91L494.04 208.51L495.01 209.09L495.98 209.67L496.96 210.24L497.94 210.80L498.94 211.35L499.95 211.89L500.96 212.43L501.98 212.95L503.01 213.47L504.06 213.98L505.11 214.48L506.16 214.97L507.23 215.45L508.31 215.92L509.39 216.38L510.49 216.84L511.59 217.28L512.71 217.72L513.83 218.14L514.96 218.56L516.10 218.97L517.25 219.37L518.42 219.75L519.59 220.13L520.77 220.50L521.96 220.86L523.15 221.21L524.36 221.55L525.58 221.88L526.81 222.20L528.05 222.51L529.30 222.81L530.56 223.10L531.83 223.38L533.10 223.65L534.39 223.91L535.69 224.16L537.00 224.40L537.06 224.46L538.65 224.12L540.26 223.78L541.87 223.45L543.49 223.13L545.11 222.82L546.74 222.51L548.38 222.21L550.02 221.92L551.67 221.63L553.33 221.35L554.99 221.08L556.66 220.81L558.34 220.54L560.02 220.29L561.71 220.04L563.40 219.79L565.10 219.55L566.80 219.32L568.51 219.09L570.23 218.87L571.95 218.65L573.68 218.44L575.41 218.23L577.14 218.03L578.89 217.84L580.64 217.65L582.39 217.46L584.15 217.28L585.91 217.11L587.68 216.94L589.45 216.77L591.22 216.61L593.01 216.45L594.79 216.30L596.58 216.15L598.38 216.01L600.17 215.87L601.98 215.73L603.79 215.60L605.60 215.48L607.41 215.35L609.23 215.24L611.05 215.12L612.88 215.01L614.71 214.90L616.55 214.80L618.38 214.70L620.22 214.60L622.07 214.51L623.92 214.42L625.77 214.33L627.62 214.25L629.48 214.17L631.34 214.09L633.20 214.01L635.07 213.94L636.94 213.87L638.81 213.81L640.68 213.74L642.56 213.68L644.44 213.62L646.32 213.57L648.20 213.51L650.09 213.46L651.98 213.41L653.87 213.36L655.76 213.32L657.66 213.27L659.55 213.23L661.45 213.19L663.35 213.15L665.25 213.12L667.15 213.08L669.06 213.05L670.96 213.02L672.87 212.99L674.78 212.96L676.69 212.93L678.60 212.90"/>
<path stroke="#2a5bab" d="M401.50 4.80L406.50 4.80L406.67 4.63L407.69 5.06L408.68 5.53L409.62 6.05L410.52 6.60L411.38 7.19L412.20 7.83L412.99 8.49L413.74 9.20L414.46 9.93L415.14 10.70L415.80 11.50L416.43 12.32L417.03 13.18L417.61 14.05L418.16 14.96L418.69 15.88L419.19 16.83L419.68 17.79L420.15 18.78L420.61 19.78L421.04 20.79L421.47 21.82L421.88 22.87L422.28 23.92L422.68 24.98L423.06 26.05L423.44 27.12L423.82 28.20L424.19 29.29L424.55 30.38L424.91 31.47L425.27 32.57L425.62 33.67L425.97 34.78L426.31 35.89L426.65 37.00L426.99 38.12L427.32 39.24L427.65 40.36L427.98 41.49L428.31 42.62L428.63 43.75L428.95 44.88L429.27 46.02L429.58 47.16L429.90 48.30L430.21 49.44L430.52 50.58L430.83 51.73L431.14 52.88L431.45 54.02L431.75 55.17L432.06 56.32L432.36 57.47L432.67 58.62L432.97 59.77L433.28 60.91L433.59 62.06L433.89 63.21L434.20 64.36L434.51 65.50L434.81 66.65L435.12 67.79L435.44 68.94L435.75 70.08L436.06 71.22L436.38 72.36L436.70 73.49L437.02 74.63L437.34 75.76L437.67 76.89L438.00 78.01L438.33 79.13L438.66 80.25L439.00 81.37L439.34 82.48L439.69 83.59L440.04 84.70L440.39 85.80L440.75 86.90L441.11 87.99L441.47 89.08L441.84 90.16L442.22 91.24L442.60 92.31L442.99 93.38L443.38 94.44L443.77 95.50L444.17 96.56L444.58 97.60L444.99 98.65L445.41 99.68L445.83 100.72L446.26 101.74L446.69 102.76L447.13 103.78L447.57 104.79L448.02 105.80L448.48 106.79L448.94 107.79L449.41 108.78L449.88 109.76L450.36 110.73L450.84 111.71L451.33 112.67L451.82 113.63L452.32 114.58L452.83 115.53L453.35 116.47L453.86 117.41L454.39 118.33L454.92 119.26L455.46 120.17L456.00 121.08L456.55 121.99L457.11 122.88L457.68 123.77L458.24 124.66L458.82 125.54L459.40 126.41L459.99 127.27L460.59 128.13L461.19 128.98L461.80 129.83L462.42 130.67L463.04 131.50L463.67 132.32L464.31 133.14L464.95 133.95L465.60 134.75L466.26 135.55L466.92 136.34L467.60 137.12L468.28 137.90L468.96 138.66L469.66 139.43L470.36 140.18L471.07 140.92L471.78 141.66L472.50 142.39L473.23 143.12L473.97 143.83L474.72 144.54L475.47 145.24L476.23 145.94L477.00 146.62L477.78 147.30L478.56 147.97L479.36 148.63L480.16 149.28L480.96 149.93L481.78 150.57L482.60 151.20L483.44 151.82L484.28 152.43L485.13 153.04L485.98 153.64L486.85 154.23L487.72 154.81L488.60 155.38L489.49 155.94L490.39 156.50L491.30 157.05L492.22 157.58L493.14 158.11L494.07 158.64L495.01 159.15L495.96 159.65L496.92 160.15L497.89 160.63L498.87 161.11L500.00 161.70L500.76 162.01L501.52 162.32L502.28 162.63L503.03 162.94L503.79 163.26L504.54 163.57L505.29 163.89L506.04 164.21L506.76 164.55L507.48 164.91L508.24 165.22L509.00 165.52L509.77 165.82L510.56 166.10L511.35 166.38L512.15 166.65L512.96 166.91L513.77 167.16L514.60 167.40L515.45 167.62L516.32 167.83L517.16 168.05L518.01 168.27L518.86 168.49L519.72 168.70L520.56 168.92L521.39 169.16L522.21 169.41L523.02 169.67L523.78 169.98L524.49 170.34L525.14 170.76L525.72 171.25L526.24 171.79L526.73 172.37L527.18 172.99L527.60 173.64L527.99 174.32L528.34 175.04L528.65 175.80L528.90 176.61L529.17 177.41L529.43 178.22L529.67 179.05L529.90 179.89L530.11 180.75L530.26 181.66L530.46 182.53L530.66 183.41L530.84 184.29L531.03 185.18L531.20 186.07L531.35 186.99L531.49 187.92L531.66 188.82L531.83 189.72L532.00 190.62L532.17 191.52L532.34 192.41L532.51 193.31L532.71 194.18L532.88 195.08L533.04 195.99L533.20 196.90L533.35 197.81L533.50 198.73L533.65 199.65L533.80 200.58L533.89 201.55L534.03 202.48L534.18 203.40L534.32 204.32L534.47 205.24L534.62 206.16L534.78 207.07L534.94 207.98L535.07 208.91L535.22 209.83L535.40 210.73L535.58 211.62L535.76 212.50L535.96 213.37L536.16 214.24L536.36 215.11L536.50 216.04L536.73 216.88L536.97 217.71L537.23 218.52L537.50 219.32L537.79 220.09L538.24 220.71L538.60 221.42L538.94 222.15L539.26 222.90L539.55 223.67L539.82 224.47L540.07 225.29L540.30 226.13L540.50 227.00"/>
<path stroke="#1aa358" d="M400.50 4.75L420.00 4.75L420.09 4.66L421.26 4.74L422.40 4.85L423.51 4.99L424.59 5.16L425.64 5.36L426.66 5.59L427.66 5.84L428.63 6.12L429.58 6.43L430.50 6.76L431.39 7.11L432.27 7.49L433.12 7.89L433.95 8.31L434.76 8.75L435.55 9.21L436.32 9.69L437.07 10.19L437.81 10.70L438.53 11.23L439.23 11.78L439.92 12.34L440.59 12.92L441.26 13.51L441.90 14.11L442.54 14.72L443.17 15.35L443.78 15.98L444.39 16.63L444.98 17.28L445.57 17.95L446.15 18.62L446.72 19.30L447.28 19.99L447.83 20.69L448.37 21.40L448.91 22.11L449.43 22.83L449.95 23.56L450.47 24.30L450.97 25.05L451.47 25.80L451.97 26.56L452.45 27.32L452.93 28.09L453.41 28.87L453.87 29.65L454.34 30.44L454.80 31.23L455.25 32.03L455.70 32.83L456.14 33.64L456.58 34.45L457.02 35.26L457.45 36.08L457.88 36.90L458.30 37.73L458.72 38.56L459.14 39.39L459.56 40.22L459.97 41.06L460.38 41.90L460.79 42.74L461.20 43.58L461.60 44.43L462.01 45.27L462.41 46.12L462.82 46.97L463.22 47.82L463.62 48.67L464.02 49.51L464.42 50.36L464.83 51.21L465.23 52.06L465.63 52.91L466.04 53.75L466.44 54.60L466.85 55.44L467.26 56.28L467.67 57.12L468.08 57.96L468.50 58.79L468.91 59.63L469.33 60.46L469.75 61.29L470.18 62.12L470.60 62.94L471.03 63.77L471.46 64.59L471.89 65.41L472.32 66.22L472.76 67.04L473.20 67.85L473.64 68.66L474.08 69.47L474.53 70.27L474.97 71.08L475.42 71.88L475.87 72.67L476.33 73.47L476.79 74.26L477.25 75.06L477.71 75.84L478.17 76.63L478.64 77.41L479.11 78.19L479.58 78.97L480.06 79.75L480.53 80.52L481.01 81.29L481.50 82.06L481.98 82.82L482.47 83.59L482.96 84.35L483.46 85.10L483.95 85.86L484.45 86.61L484.95 87.36L485.46 88.10L485.97 88.84L486.48 89.58L486.99 90.32L487.51 91.05L488.03 91.78L488.55 92.51L489.08 93.24L489.60 93.96L490.14 94.68L490.67 95.39L491.21 96.11L491.75 96.81L492.30 97.52L492.84 98.22L493.39 98.92L493.95 99.62L494.51 100.31L495.07 101.00L495.63 101.69L496.20 102.37L496.77 103.05L497.34 103.73L497.92 104.40L498.50 105.07L499.09 105.74L499.67 106.40L500.27 107.06L500.86 107.71L501.46 108.36L502.06 109.01L502.67 109.66L503.28 110.30L503.89 110.94L504.51 111.57L505.13 112.20L505.75 112.83L506.38 113.45L507.01 114.07L507.65 114.68L508.29 115.29L508.93 115.90L509.58 116.51L510.23 117.11L510.88 117.70L511.54 118.29L512.20 118.88L512.87 119.46L513.54 120.04L514.21 120.62L514.89 121.19L515.58 121.76L516.26 122.32L516.95 122.88L517.65 123.44L518.35 123.99L519.05 124.54L519.76 125.08L520.47 125.62L521.19 126.15L521.91 126.68L522.63 127.21L523.36 127.73L524.10 128.24L524.84 128.76L525.58 129.26L526.33 129.77L527.08 130.27L527.83 130.76L528.59 131.25L529.36 131.74L530.13 132.22L530.90 132.69L531.68 133.17L532.46 133.63L533.25 134.10L534.04 134.55L534.84 135.01L535.64 135.46L536.45 135.90L537.26 136.34L537.10 136.30L678.60 136.30"/>
</g>
<path d="M478.40 136.30H537.60M478.40 215.20H537.60M478.40 136.30V215.20M537.60 136.30V215.20" fill="none" stroke="#f4b04a" stroke-width="1.5" stroke-dasharray="5.6 5.3"/>
<path d="M423.90 226.10V221.90M395.60 203.96H399.80M452.20 226.10V221.90M395.60 181.82H399.80M480.50 226.10V221.90M395.60 159.68H399.80M508.80 226.10V221.90M395.60 137.54H399.80M537.10 226.10V221.90M395.60 115.40H399.80M565.40 226.10V221.90M395.60 93.26H399.80M593.70 226.10V221.90M395.60 71.12H399.80M622.00 226.10V221.90M395.60 48.98H399.80M650.30 226.10V221.90M395.60 26.84H399.80" stroke="#000" stroke-width="2.2" fill="none"/>
<rect x="395.60" y="4.70" width="283.00" height="221.40" fill="none" stroke="#000" stroke-width="2.6"/>
<text class="tk" x="395.60" y="237.70" text-anchor="middle">0.0</text>
<text class="tk" x="390.60" y="228.80" text-anchor="end">0.0</text>
<text class="tk" x="423.90" y="237.70" text-anchor="middle">0.1</text>
<text class="tk" x="390.60" y="206.66" text-anchor="end">0.1</text>
<text class="tk" x="452.20" y="237.70" text-anchor="middle">0.2</text>
<text class="tk" x="390.60" y="184.52" text-anchor="end">0.2</text>
<text class="tk" x="480.50" y="237.70" text-anchor="middle">0.3</text>
<text class="tk" x="390.60" y="162.38" text-anchor="end">0.3</text>
<text class="tk" x="508.80" y="237.70" text-anchor="middle">0.4</text>
<text class="tk" x="390.60" y="140.24" text-anchor="end">0.4</text>
<text class="tk" x="537.10" y="237.70" text-anchor="middle">0.5</text>
<text class="tk" x="390.60" y="118.10" text-anchor="end">0.5</text>
<text class="tk" x="565.40" y="237.70" text-anchor="middle">0.6</text>
<text class="tk" x="390.60" y="95.96" text-anchor="end">0.6</text>
<text class="tk" x="593.70" y="237.70" text-anchor="middle">0.7</text>
<text class="tk" x="390.60" y="73.82" text-anchor="end">0.7</text>
<text class="tk" x="622.00" y="237.70" text-anchor="middle">0.8</text>
<text class="tk" x="390.60" y="51.68" text-anchor="end">0.8</text>
<text class="tk" x="650.30" y="237.70" text-anchor="middle">0.9</text>
<text class="tk" x="390.60" y="29.54" text-anchor="end">0.9</text>
<text class="tk" x="678.60" y="237.70" text-anchor="middle">1.0</text>
<text class="tk" x="390.60" y="7.40" text-anchor="end">1.0</text>
<path d="M610.50 12.30H628.30" stroke="#413f3d" stroke-width="2.00"/>
<path d="M610.50 21.60H628.30" stroke="#e32a27" stroke-width="2.00"/>
<path d="M610.50 32.50H628.30" stroke="#2a5bab" stroke-width="2.00"/>
<path d="M610.50 41.80H628.30" stroke="#1aa358" stroke-width="2.00"/>
<text class="lg" x="630.10" y="14.70" style="font-size:9.00px">Dis<tspan dx="0.50" dy="0.90" style="font-size:5.60px;font-style:normal">1</tspan></text>
<text class="lg" x="630.10" y="24.00" style="font-size:9.00px">Dis<tspan dx="0.50" dy="0.90" style="font-size:5.60px;font-style:normal">2</tspan></text>
<text class="lg" x="630.10" y="34.70" style="font-size:9.00px">Dis<tspan dx="0.60" dy="-3.10" style="font-size:6.60px;letter-spacing:0.10px;font-weight:bold">L−IF*</tspan></text>
<text class="lg" x="629.40" y="43.50" style="font-size:8.55px">ϱ<tspan dx="0.30" dy="0.80" style="font-size:5.60px;letter-spacing:1.30px;font-weight:bold">FSR−FMP</tspan></text>
<path d="M630.70 38.50q0.60 -0.90 1.30 -0.30t1.30 -0.30" fill="none" stroke="#222" stroke-width="0.55"/>
<rect x="577.20" y="50.20" width="84.70" height="73.90" fill="#fff"/>
<clipPath id="icb"><rect x="577.20" y="50.20" width="84.70" height="73.90"/></clipPath>
<g clip-path="url(#icb)" fill="none" stroke-width="0.80">
<path stroke="#413f3d" d="M557.16 110.72L558.32 110.91L559.50 111.09L560.69 111.28L561.88 111.46L563.09 111.63L564.31 111.81L565.55 111.98L566.79 112.15L568.05 112.32L569.32 112.49L570.60 112.65L571.89 112.82L573.19 112.98L574.50 113.13L575.83 113.29L577.17 113.44L578.52 113.59L579.88 113.74L581.26 113.89L582.64 114.03L584.04 114.18L585.45 114.32L586.87 114.45L588.31 114.59L589.75 114.72L591.21 114.85L592.68 114.98L594.17 115.11L595.66 115.23L597.17 115.36L598.69 115.47L600.22 115.59L601.77 115.71L603.32 115.82L604.89 115.93L606.48 116.04L608.07 116.14L609.68 116.24L611.30 116.35L612.93 116.44L614.58 116.54L616.23 116.63L617.90 116.72L619.59 116.81L621.28 116.90L622.99 116.98L624.71 117.06L626.45 117.14L628.20 117.22L629.96 117.29L631.73 117.37L633.52 117.44L635.32 117.50L637.13 117.57L638.95 117.63L640.79 117.69L642.65 117.75L644.51 117.80L646.39 117.85L648.28 117.90L650.19 117.95L652.10 117.99L654.04 118.04L655.98 118.08L657.94 118.11L659.91 118.15L661.90 118.18L661.91 118.18L664.48 118.13L667.05 118.09L669.63 118.04L672.20 118.00L674.78 117.95L677.36 117.91L679.94 117.86L682.53 117.82"/>
<path stroke="#e32a27" d="M556.60 106.97L557.66 107.21L558.73 107.44L559.81 107.67L560.90 107.90L562.01 108.13L563.12 108.36L564.24 108.58L565.38 108.80L566.53 109.02L567.68 109.24L568.85 109.46L570.03 109.67L571.22 109.88L572.42 110.09L573.63 110.30L574.86 110.50L576.09 110.71L577.34 110.91L578.60 111.11L579.87 111.30L581.15 111.50L582.44 111.69L583.75 111.88L585.06 112.07L586.39 112.25L587.73 112.44L589.09 112.62L590.45 112.80L591.83 112.97L593.22 113.15L594.62 113.32L596.04 113.49L597.47 113.66L598.91 113.82L600.36 113.98L601.83 114.14L603.30 114.30L604.80 114.46L606.30 114.61L607.82 114.76L609.35 114.91L610.89 115.05L612.45 115.19L614.02 115.34L615.60 115.47L617.20 115.61L618.81 115.74L620.44 115.87L622.08 116.00L623.73 116.12L625.40 116.25L627.08 116.36L628.77 116.48L630.48 116.60L632.20 116.71L633.94 116.82L635.69 116.92L637.46 117.03L639.24 117.13L641.03 117.23L642.84 117.32L644.66 117.41L646.50 117.50L648.36 117.59L650.22 117.68L652.11 117.76L654.01 117.84L655.92 117.91L657.85 117.98L659.79 118.05L661.75 118.12L661.84 118.14L664.23 118.04L666.63 117.95L669.04 117.86L671.46 117.77L673.89 117.68L676.33 117.59L678.78 117.51L681.24 117.43"/>
<path stroke="#2a5bab" d="M556.88 93.38L557.89 93.60L558.91 93.82L559.93 94.04L560.97 94.25L562.02 94.46L563.08 94.67L564.15 94.88L565.23 95.08L566.33 95.29L567.43 95.49L568.55 95.69L569.68 95.88L570.82 96.08L571.97 96.27L573.13 96.46L574.30 96.65L575.49 96.84L576.69 97.02L577.90 97.20L579.12 97.38L580.35 97.56L581.60 97.73L582.85 97.90L584.12 98.07L585.41 98.24L586.70 98.41L588.01 98.57L589.33 98.73L590.66 98.89L592.00 99.05L593.36 99.20L594.73 99.35L596.12 99.50L597.51 99.65L598.92 99.79L600.34 99.93L601.78 100.07L603.23 100.21L604.69 100.34L606.38 100.51L607.52 100.59L608.66 100.68L609.79 100.77L610.92 100.86L612.05 100.94L613.17 101.03L614.29 101.12L615.41 101.21L616.50 101.31L617.57 101.41L618.71 101.50L619.85 101.58L621.01 101.66L622.18 101.74L623.36 101.82L624.56 101.90L625.77 101.97L626.99 102.04L628.23 102.11L629.51 102.17L630.80 102.23L632.07 102.29L633.33 102.35L634.60 102.42L635.89 102.47L637.15 102.54L638.39 102.60L639.62 102.67L640.83 102.75L641.97 102.83L642.84 102.83L643.20 102.85L643.56 102.88L643.92 102.90L644.28 102.94L644.64 102.97L645.00 103.02L645.35 103.06L645.71 103.10L646.07 103.15L646.43 103.20L646.79 103.26L647.15 103.32L647.51 103.39L647.87 103.46L648.23 103.54L648.58 103.63L648.94 103.72L649.30 103.83L649.66 103.96L650.02 104.10L650.38 104.27L650.74 104.45L651.10 104.65L651.46 104.87L651.81 105.09L652.17 105.34L652.53 105.62L652.89 105.93L653.25 106.26L653.61 106.61L653.97 106.97L654.33 107.33L654.69 107.72L655.05 108.12L655.40 108.55L655.76 109.00L656.12 109.46L656.48 109.94L656.84 110.42L657.20 110.92L657.56 111.44L657.92 111.97L658.28 112.53L658.63 113.09L658.99 113.66L659.35 114.23L659.71 114.82L660.07 115.42L660.43 116.03L660.79 116.66L661.15 117.28L661.51 117.91L661.86 118.54L662.22 119.16L662.58 119.79L662.94 120.42L663.30 121.06L663.66 121.69L664.02 122.33"/>
<path stroke="#1aa358" d="M556.16 70.42L556.77 70.65L557.38 70.89L558.00 71.13L558.62 71.36L559.24 71.60L559.86 71.83L560.49 72.07L561.12 72.30L561.75 72.53L562.39 72.76L563.03 72.99L563.67 73.22L564.31 73.45L564.96 73.68L565.62 73.91L566.27 74.14L566.93 74.37L567.59 74.60L568.26 74.82L568.93 75.05L569.60 75.27L570.28 75.50L570.96 75.72L571.64 75.94L572.33 76.17L573.02 76.39L573.72 76.61L574.42 76.83L575.12 77.05L575.83 77.27L576.54 77.48L577.25 77.70L577.97 77.92L578.69 78.13L579.42 78.35L580.15 78.56L580.88 78.78L581.62 78.99L582.37 79.20L583.11 79.41L583.86 79.62L584.62 79.83L585.38 80.04L586.14 80.25L586.91 80.45L587.69 80.66L588.46 80.87L589.25 81.07L590.03 81.27L590.83 81.48L591.62 81.68L592.42 81.88L593.23 82.08L594.04 82.28L594.85 82.48L595.67 82.67L596.50 82.87L597.33 83.07L598.16 83.26L599.00 83.46L599.84 83.65L600.69 83.84L601.55 84.03L602.41 84.22L603.27 84.41L604.14 84.60L605.01 84.79L605.89 84.97L606.78 85.16L607.67 85.34L608.57 85.52L609.47 85.71L610.37 85.89L611.28 86.07L612.20 86.25L613.12 86.42L614.05 86.60L614.99 86.78L615.93 86.95L616.87 87.13L617.82 87.30L618.78 87.47L619.74 87.64L620.71 87.81L621.68 87.98L622.66 88.15L623.65 88.31L624.64 88.48L625.64 88.64L626.64 88.80L627.65 88.97L628.67 89.13L629.69 89.29L630.72 89.44L631.75 89.60L632.79 89.76L633.84 89.91L634.89 90.07L635.95 90.22L637.02 90.37L638.09 90.52L639.17 90.67L640.25 90.82L641.34 90.96L642.44 91.11L643.55 91.25L644.66 91.39L645.78 91.54L646.90 91.68L648.03 91.82L649.17 91.95L650.31 92.09L651.47 92.22L652.62 92.36L653.79 92.49L654.96 92.62L656.14 92.75L657.33 92.88L658.52 93.01L659.72 93.13L660.93 93.26L662.14 93.38L661.90 93.37"/>
</g>
<path d="M624.30 55.90H634.50" stroke="#c4c4c4" stroke-width="1.20"/>
<path d="M624.30 61.50H634.50" stroke="#ee7470" stroke-width="1.00"/>
<path d="M624.30 67.40H634.50" stroke="#5d84c8" stroke-width="1.20"/>
<path d="M624.30 73.10H634.50" stroke="#86c79c" stroke-width="1.20"/>
<text class="ilg" x="635.80" y="57.23" style="font-size:5.00px">Dis<tspan dx="0.28" dy="0.50" style="font-size:3.11px;font-style:normal">1</tspan></text>
<text class="ilg" x="635.80" y="62.83" style="font-size:5.00px">Dis<tspan dx="0.28" dy="0.50" style="font-size:3.11px;font-style:normal">2</tspan></text>
<text class="ilg" x="635.80" y="68.62" style="font-size:5.00px">Dis<tspan dx="0.33" dy="-1.72" style="font-size:3.67px;letter-spacing:0.06px;font-weight:bold">L−IF*</tspan></text>
<text class="ilg" x="635.41" y="74.04" style="font-size:4.75px">ϱ<tspan dx="0.17" dy="0.44" style="font-size:3.11px;letter-spacing:0.72px;font-weight:bold">FSR−FMP</tspan></text>
<path d="M636.13 71.27q0.33 -0.50 0.72 -0.17t0.72 -0.17" fill="none" stroke="#222" stroke-width="0.31"/>
<path d="M577.20 124.10V122.90M598.38 124.10V122.90M619.55 124.10V122.90M640.73 124.10V122.90M661.90 124.10V122.90M577.20 118.60H578.40M577.20 106.16H578.40M577.20 93.72H578.40M577.20 81.28H578.40M577.20 68.84H578.40M577.20 56.40H578.40" stroke="#a8a8a8" stroke-width="0.6" fill="none"/>
<path d="M577.20 50.20H661.90V124.10" fill="none" stroke="#9c9c9c" stroke-width="0.80"/>
<path d="M577.20 50.20V124.10H661.90" fill="none" stroke="#dadada" stroke-width="0.80"/>
<text class="itk" x="577.20" y="129.60" text-anchor="middle" style="font-size:4.70px">0.30</text>
<text class="itk" x="598.38" y="129.60" text-anchor="middle" style="font-size:4.70px">0.35</text>
<text class="itk" x="619.55" y="129.60" text-anchor="middle" style="font-size:4.70px">0.40</text>
<text class="itk" x="640.73" y="129.60" text-anchor="middle" style="font-size:4.70px">0.45</text>
<text class="itk" x="661.90" y="129.60" text-anchor="middle" style="font-size:4.70px">0.50</text>
<text class="itk" x="575.90" y="120.15" text-anchor="end" style="font-size:4.70px">0.0</text>
<text class="itk" x="575.90" y="107.71" text-anchor="end" style="font-size:4.70px">0.2</text>
<text class="itk" x="575.90" y="95.27" text-anchor="end" style="font-size:4.70px">0.4</text>
<text class="itk" x="575.90" y="82.83" text-anchor="end" style="font-size:4.70px">0.6</text>
<text class="itk" x="575.90" y="70.39" text-anchor="end" style="font-size:4.70px">0.8</text>
<text class="itk" x="575.90" y="57.95" text-anchor="end" style="font-size:4.70px">1.0</text>
<text class="ixl" x="619.55" y="134.00" text-anchor="middle" style="font-size:4.70px">varying variance parameter</text>
<path d="M539.20 133.60L564.23 89.67" stroke="#111" stroke-width="1.1" fill="none"/>
<path d="M567.00 84.80L565.47 91.52L562.00 89.54Z" fill="#111"/>
<clipPath id="clipc"><rect x="46.60" y="286.80" width="283.00" height="220.90"/></clipPath>
<g clip-path="url(#clipc)" fill="none" stroke-width="2.1" stroke-linejoin="round" stroke-linecap="round">
<path stroke="#413f3d" d="M53.31 439.81L54.50 439.57L55.63 439.26L56.71 438.90L57.73 438.48L58.70 438.02L59.63 437.50L60.50 436.94L61.33 436.33L62.11 435.68L62.86 434.99L63.56 434.26L64.23 433.49L64.87 432.68L65.47 431.85L66.04 430.98L66.58 430.09L67.10 429.17L67.59 428.22L68.06 427.25L68.51 426.26L68.94 425.26L69.35 424.23L69.75 423.20L70.14 422.15L70.52 421.09L70.89 420.02L71.25 418.95L71.61 417.87L71.97 416.79L72.32 415.70L72.66 414.61L73.00 413.51L73.34 412.41L73.67 411.31L74.00 410.20L74.33 409.09L74.65 407.97L74.97 406.86L75.29 405.74L75.60 404.61L75.91 403.49L76.22 402.36L76.53 401.23L76.84 400.10L77.14 398.97L77.44 397.83L77.74 396.69L78.04 395.56L78.34 394.42L78.64 393.28L78.94 392.14L79.24 391.00L79.54 389.86L79.83 388.73L80.13 387.59L80.43 386.45L80.73 385.31L81.03 384.18L81.33 383.04L81.64 381.91L81.94 380.77L82.25 379.64L82.56 378.52L82.87 377.39L83.18 376.27L83.50 375.15L83.82 374.03L84.14 372.91L84.47 371.80L84.80 370.69L85.13 369.59L85.46 368.49L85.80 367.39L86.15 366.30L86.50 365.21L86.85 364.13L87.21 363.05L87.57 361.97L87.94 360.90L88.32 359.84L88.70 358.78L89.08 357.73L89.47 356.69L89.87 355.65L90.28 354.62L90.69 353.59L91.11 352.57L91.53 351.56L91.96 350.55L92.40 349.56L92.85 348.57L93.31 347.59L93.77 346.61L94.24 345.65L94.72 344.69L95.21 343.74L95.70 342.80L96.21 341.86L96.72 340.93L97.23 340.02L97.76 339.11L98.29 338.20L98.84 337.31L99.39 336.42L99.94 335.54L100.51 334.67L101.08 333.80L101.66 332.95L102.25 332.10L102.85 331.26L103.46 330.43L104.07 329.60L104.69 328.79L105.32 327.98L105.95 327.18L106.60 326.39L107.25 325.60L107.91 324.82L108.58 324.05L109.26 323.29L109.94 322.54L110.63 321.79L111.33 321.06L112.04 320.33L112.75 319.61L113.48 318.89L114.21 318.19L114.95 317.49L115.70 316.80L116.45 316.12L117.21 315.44L117.99 314.78L118.76 314.12L119.55 313.47L120.35 312.83L121.15 312.19L121.96 311.57L122.78 310.95L123.61 310.34L124.44 309.73L125.28 309.14L126.13 308.55L126.99 307.97L127.86 307.40L128.73 306.84L129.62 306.29L130.51 305.74L131.40 305.20L132.31 304.67L133.23 304.15L134.15 303.63L135.08 303.13L136.02 302.63L136.96 302.14L137.92 301.65L138.88 301.18L139.85 300.71L140.83 300.25L141.81 299.80L142.81 299.36L143.81 298.92L144.82 298.50L145.84 298.08L146.87 297.67L147.90 297.27L148.94 296.87L149.99 296.48L151.05 296.11L152.12 295.74L153.19 295.37L154.28 295.02L155.37 294.67L156.47 294.33L157.57 294.00L158.69 293.68L159.81 293.37L160.94 293.06L162.08 292.76L163.23 292.47L164.38 292.19L165.55 291.92L166.72 291.65L167.90 291.39L169.09 291.14L170.28 290.90L171.48 290.67L172.70 290.44L173.92 290.23L175.14 290.02L176.38 289.81L177.62 289.62L178.88 289.44L180.14 289.26L181.40 289.09L182.68 288.93L183.97 288.78L185.26 288.63L186.56 288.50L187.87 288.37L187.94 288.36L189.69 288.50L191.45 288.63L193.20 288.77L194.95 288.90L196.71 289.04L198.46 289.17L200.21 289.31L201.97 289.44L203.72 289.58L205.47 289.71L207.23 289.85L208.98 289.98L210.74 290.11L212.49 290.25L214.25 290.38L216.01 290.51L217.76 290.64L219.52 290.77L221.28 290.90L223.04 291.03L224.80 291.16L226.56 291.29L228.32 291.42L230.08 291.54L231.85 291.67L233.61 291.79L235.37 291.92L237.14 292.04L238.91 292.16L240.68 292.28L242.45 292.40L244.22 292.52L245.99 292.64L247.76 292.75L249.54 292.87L251.31 292.98L253.09 293.09L254.87 293.20L256.65 293.31L258.43 293.41L260.21 293.52L262.00 293.62L263.79 293.72L265.57 293.82L267.36 293.92L269.16 294.02L270.95 294.11L272.75 294.21L274.54 294.30L276.34 294.39L278.15 294.47L279.95 294.56L281.76 294.64L283.56 294.72L285.38 294.80L287.19 294.87L289.00 294.95L290.82 295.02L292.64 295.09L294.46 295.15L296.29 295.22L298.11 295.28L299.94 295.34L301.78 295.39L303.61 295.45L305.45 295.50L307.29 295.55L309.13 295.59L310.98 295.63L312.83 295.67L314.68 295.71L316.54 295.74L318.39 295.78L320.25 295.80L322.12 295.83L323.99 295.85L325.86 295.87L327.73 295.88L329.61 295.89"/>
<path stroke="#e32a27" d="M53.07 461.57L54.40 461.35L55.65 461.05L56.84 460.70L57.96 460.27L59.03 459.79L60.04 459.25L61.00 458.66L61.90 458.02L62.76 457.33L63.57 456.59L64.34 455.82L65.07 455.00L65.77 454.15L66.43 453.26L67.06 452.34L67.66 451.39L68.23 450.41L68.77 449.41L69.28 448.37L69.77 447.32L70.24 446.24L70.69 445.14L71.12 444.02L71.53 442.89L71.93 441.74L72.31 440.57L72.69 439.40L73.05 438.21L73.40 437.02L73.75 435.82L74.10 434.62L74.44 433.41L74.77 432.20L75.11 430.99L75.45 429.78L75.78 428.56L76.11 427.34L76.44 426.13L76.77 424.91L77.10 423.69L77.43 422.47L77.75 421.25L78.08 420.03L78.40 418.80L78.73 417.58L79.05 416.36L79.38 415.14L79.70 413.91L80.03 412.69L80.36 411.47L80.68 410.25L81.01 409.03L81.34 407.81L81.67 406.59L82.00 405.37L82.33 404.16L82.67 402.95L83.00 401.73L83.34 400.52L83.68 399.32L84.02 398.11L84.37 396.91L84.71 395.71L85.06 394.51L85.42 393.31L85.77 392.12L86.13 390.93L86.49 389.75L86.86 388.56L87.23 387.38L87.60 386.21L87.98 385.04L88.36 383.87L88.74 382.71L89.13 381.55L89.52 380.40L89.92 379.25L90.33 378.10L90.73 376.96L91.15 375.83L91.57 374.70L91.99 373.58L92.42 372.46L92.85 371.34L93.30 370.24L93.74 369.14L94.19 368.04L94.65 366.95L95.11 365.86L95.58 364.78L96.06 363.71L96.54 362.64L97.02 361.58L97.51 360.52L98.01 359.47L98.51 358.43L99.02 357.39L99.54 356.36L100.06 355.33L100.58 354.31L101.12 353.29L101.66 352.29L102.20 351.28L102.75 350.29L103.31 349.30L103.87 348.31L104.44 347.33L105.02 346.36L105.60 345.40L106.19 344.44L106.78 343.48L107.38 342.54L107.99 341.60L108.60 340.66L109.23 339.74L109.85 338.81L110.49 337.90L111.13 336.99L111.77 336.09L112.43 335.20L113.09 334.31L113.75 333.43L114.43 332.55L115.11 331.69L115.79 330.83L116.49 329.97L117.19 329.13L117.90 328.29L118.61 327.45L119.33 326.63L120.06 325.81L120.80 325.00L121.54 324.19L122.29 323.39L123.05 322.60L123.81 321.82L124.58 321.04L125.36 320.27L126.15 319.51L126.94 318.76L127.74 318.01L128.55 317.27L129.36 316.54L130.19 315.81L131.02 315.10L131.86 314.39L132.70 313.68L133.55 312.99L134.41 312.30L135.28 311.62L136.16 310.95L137.04 310.29L137.93 309.63L138.83 308.98L139.74 308.34L140.65 307.71L141.58 307.08L142.51 306.46L143.45 305.85L144.39 305.25L145.35 304.66L146.31 304.07L147.28 303.50L148.26 302.93L149.24 302.37L150.24 301.81L151.24 301.27L152.25 300.73L153.27 300.21L154.30 299.69L155.34 299.17L156.38 298.67L157.44 298.18L158.50 297.69L159.57 297.21L160.65 296.74L161.73 296.28L162.83 295.83L163.93 295.39L165.05 294.95L166.17 294.53L167.30 294.11L168.44 293.70L169.58 293.30L170.74 292.91L171.91 292.53L173.08 292.15L174.26 291.79L175.46 291.43L176.66 291.09L177.87 290.75L179.09 290.42L180.31 290.10L181.55 289.79L182.80 289.49L184.05 289.20L185.32 288.91L186.59 288.64L187.87 288.37L187.91 288.39L189.57 288.68L191.23 288.97L192.90 289.25L194.57 289.53L196.24 289.81L197.92 290.08L199.60 290.35L201.28 290.61L202.98 290.87L204.67 291.12L206.37 291.37L208.07 291.62L209.78 291.86L211.49 292.10L213.20 292.34L214.92 292.57L216.64 292.80L218.37 293.02L220.10 293.24L221.83 293.45L223.57 293.67L225.31 293.87L227.06 294.08L228.80 294.28L230.56 294.48L232.31 294.67L234.07 294.86L235.83 295.05L237.60 295.23L239.37 295.41L241.14 295.59L242.92 295.76L244.70 295.93L246.48 296.10L248.27 296.26L250.06 296.42L251.85 296.58L253.65 296.73L255.45 296.88L257.25 297.03L259.05 297.17L260.86 297.31L262.67 297.45L264.49 297.58L266.31 297.72L268.13 297.85L269.95 297.97L271.77 298.10L273.60 298.22L275.43 298.33L277.27 298.45L279.11 298.56L280.95 298.67L282.79 298.78L284.63 298.88L286.48 298.98L288.33 299.08L290.18 299.18L292.04 299.28L293.89 299.37L295.75 299.46L297.62 299.54L299.48 299.63L301.35 299.71L303.22 299.79L305.09 299.87L306.96 299.95L308.84 300.02L310.71 300.09L312.59 300.16L314.48 300.23L316.36 300.30L318.25 300.36L320.13 300.42L322.02 300.48L323.91 300.54L325.81 300.59L327.70 300.65L329.60 300.70"/>
<path stroke="#2a5bab" d="M52.50 507.70L57.50 507.70L57.63 507.83L58.67 507.46L59.66 507.05L60.60 506.58L61.49 506.07L62.34 505.52L63.16 504.92L63.93 504.29L64.66 503.62L65.36 502.92L66.03 502.18L66.66 501.41L67.27 500.61L67.85 499.78L68.40 498.93L68.93 498.05L69.43 497.15L69.92 496.23L70.39 495.30L70.84 494.34L71.27 493.37L71.70 492.39L72.11 491.40L72.51 490.40L72.91 489.39L73.30 488.37L73.68 487.35L74.07 486.33L74.44 485.30L74.81 484.27L75.18 483.23L75.55 482.19L75.91 481.15L76.26 480.10L76.61 479.04L76.96 477.99L77.31 476.93L77.65 475.87L78.00 474.80L78.33 473.74L78.67 472.67L79.00 471.60L79.34 470.52L79.67 469.45L79.99 468.37L80.32 467.30L80.65 466.22L80.97 465.14L81.30 464.06L81.62 462.98L81.95 461.90L82.27 460.81L82.59 459.73L82.92 458.65L83.24 457.57L83.57 456.49L83.89 455.41L84.22 454.33L84.55 453.26L84.88 452.18L85.21 451.11L85.54 450.04L85.88 448.97L86.22 447.90L86.56 446.83L86.90 445.77L87.24 444.71L87.59 443.65L87.94 442.60L88.30 441.55L88.65 440.50L89.02 439.46L89.38 438.42L89.75 437.38L90.13 436.35L90.50 435.33L90.89 434.31L91.28 433.29L91.67 432.28L92.07 431.27L92.47 430.27L92.88 429.28L93.30 428.29L93.72 427.30L94.15 426.33L94.58 425.36L95.02 424.39L95.47 423.43L95.92 422.48L96.37 421.53L96.84 420.58L97.31 419.65L97.78 418.72L98.26 417.79L98.75 416.87L99.24 415.96L99.74 415.06L100.24 414.16L100.75 413.26L101.27 412.37L101.79 411.49L102.32 410.62L102.86 409.75L103.40 408.88L103.95 408.03L104.50 407.18L105.06 406.33L105.63 405.49L106.21 404.66L106.78 403.84L107.37 403.02L107.96 402.21L108.56 401.40L109.17 400.60L109.78 399.81L110.40 399.02L111.02 398.24L111.66 397.47L112.29 396.70L112.94 395.94L113.59 395.19L114.25 394.44L114.91 393.70L115.59 392.97L116.26 392.24L116.95 391.52L117.64 390.81L118.34 390.10L119.05 389.40L119.76 388.71L120.48 388.02L121.20 387.35L121.94 386.67L122.68 386.01L123.42 385.35L124.18 384.70L124.94 384.06L125.71 383.42L126.48 382.79L127.27 382.17L128.06 381.55L128.85 380.94L129.66 380.34L130.47 379.75L131.29 379.16L132.11 378.58L132.94 378.01L133.78 377.45L134.63 376.89L135.49 376.34L136.35 375.80L137.22 375.26L138.10 374.73L138.98 374.21L139.87 373.70L140.77 373.19L141.68 372.69L142.59 372.20L143.51 371.72L144.44 371.24L145.38 370.78L146.33 370.32L147.28 369.86L148.24 369.42L149.21 368.98L150.18 368.55L151.16 368.13L152.16 367.72L153.15 367.31L154.16 366.91L155.18 366.52L156.20 366.14L157.23 365.76L158.27 365.40L159.31 365.04L160.37 364.69L161.43 364.34L162.50 364.01L163.58 363.68L164.66 363.36L165.76 363.05L166.86 362.75L167.97 362.46L169.09 362.17L170.22 361.89L171.35 361.62L172.49 361.36L173.65 361.11L174.81 360.86L175.97 360.62L177.15 360.40L178.33 360.17L179.53 359.96L180.73 359.76L181.94 359.56L183.16 359.38L184.38 359.20L185.62 359.03L186.86 358.87L188.12 358.72L188.10 358.67L188.45 358.67L188.81 358.67L189.16 358.67L189.52 358.67L189.87 358.67L190.23 358.67L190.58 358.67L190.94 358.67L191.29 358.67L191.65 358.67L192.00 358.67L192.36 358.67L192.71 358.67L193.06 358.67L193.42 358.67L193.77 358.67L194.13 358.67L194.48 358.67L194.84 358.67L195.19 358.67L195.55 358.67L195.90 358.67L196.26 358.67L196.61 358.67L196.97 358.67L197.32 358.67L197.68 358.67L198.03 358.67L198.38 358.67L198.74 358.67L199.09 358.67L199.45 358.67L199.80 358.67L200.16 358.67L200.51 358.67L200.87 358.67L201.22 358.67L201.58 358.67L201.93 358.67L202.29 358.67L202.64 358.67L202.99 358.67L203.35 358.67L203.70 358.67L204.06 358.67L204.41 358.67L204.77 358.67L205.12 358.67L205.48 358.67L205.83 358.67L206.19 358.67L206.54 358.67L206.90 358.67L207.25 358.67L207.61 358.67L207.96 358.67L208.31 358.67L208.67 358.67L209.02 358.67L209.38 358.67L209.73 358.67L210.09 358.67L210.44 358.67L210.80 358.67L211.15 358.66L211.51 358.51L211.86 358.18L212.22 357.67L212.57 356.98L212.92 356.11L213.28 355.08L213.63 353.89L213.99 352.55L214.34 351.07L214.70 349.47L215.05 347.75L215.41 345.93L215.76 344.02L216.12 342.04L216.47 340.00L216.83 337.93L217.18 335.83L217.53 333.72L217.89 331.62L218.24 329.54L218.60 327.51L218.95 325.53L219.31 323.63L219.66 321.82L220.02 320.10L220.37 318.50L220.73 317.03L221.08 315.70L221.44 314.52L221.79 313.49L222.15 312.64L222.50 311.96L222.85 311.45L223.21 311.13L223.56 310.99L223.92 311.04L224.27 311.28L224.63 311.70L224.98 312.30L225.34 313.08L225.69 314.03L226.05 315.14L226.40 316.40L226.76 317.81L227.11 319.36L227.46 321.02L227.82 322.79L228.17 324.65L228.53 326.60L228.88 328.61L229.24 330.66L229.59 332.75L229.95 334.86L230.30 336.97L230.66 339.06L231.01 341.11L231.37 343.12L231.72 345.06L232.07 346.92L232.43 348.69L232.78 350.35L233.14 351.89L233.49 353.29L233.85 354.55L234.20 355.66L234.56 356.60L234.91 357.37L235.27 357.97L235.62 358.39L235.98 358.62L236.33 358.67L236.69 358.67L237.04 358.67L237.39 358.67L237.75 358.67L238.10 358.67L238.46 358.67L238.81 358.67L239.17 358.67L239.52 358.67L239.88 358.67L240.23 358.67L240.59 358.67L240.94 358.67L241.30 358.67L241.65 358.67L242.00 358.67L242.36 358.67L242.71 358.67L243.07 358.67L243.42 358.67L243.78 358.67L244.13 358.67L244.49 358.67L244.84 358.67L245.20 358.67L245.55 358.67L245.91 358.67L246.26 358.67L246.62 358.67L246.97 358.67L247.32 358.67L247.68 358.67L248.03 358.67L248.39 358.67L248.74 358.67L249.10 358.67L249.45 358.67L249.81 358.67L250.16 358.67L250.52 358.67L250.87 358.67L251.23 358.67L251.58 358.67L251.93 358.67L252.29 358.67L252.64 358.67L253.00 358.67L253.35 358.67L253.71 358.64L254.06 358.43L254.42 358.05L254.77 357.48L255.13 356.74L255.48 355.82L255.84 354.74L256.19 353.50L256.54 352.12L256.90 350.60L257.25 348.96L257.61 347.21L257.96 345.36L258.32 343.43L258.67 341.43L259.03 339.38L259.38 337.30L259.74 335.19L260.09 333.09L260.45 330.99L260.80 328.93L261.16 326.91L261.51 324.96L261.86 323.08L262.22 321.29L262.57 319.61L262.93 318.05L263.28 316.62L263.64 315.33L263.99 314.19L264.35 313.22L264.70 312.41L265.06 311.78L265.41 311.34L265.77 311.07L266.12 310.99L266.47 311.10L266.83 311.39L267.18 311.86L267.54 312.52L267.89 313.35L268.25 314.35L268.60 315.50L268.96 316.81L269.31 318.26L269.67 319.84L270.02 321.54L270.38 323.34L270.73 325.23L271.08 327.19L271.44 329.22L271.79 331.29L272.15 333.39L272.50 335.49L272.86 337.60L273.21 339.68L273.57 341.72L273.92 343.71L274.28 345.63L274.63 347.47L274.99 349.20L275.34 350.83L275.70 352.33L276.05 353.69L276.40 354.90L276.76 355.96L277.11 356.85L277.47 357.57L277.82 358.11L278.18 358.47L278.53 358.65L278.89 358.67L279.24 358.67L279.60 358.67L279.95 358.67L280.31 358.67L280.66 358.67L281.01 358.67L281.37 358.67L281.72 358.67L282.08 358.67L282.43 358.67L282.79 358.67L283.14 358.67L283.50 358.67L283.85 358.67L284.21 358.67L284.56 358.67L284.92 358.67L285.27 358.67L285.63 358.67L285.98 358.67L286.33 358.67L286.69 358.67L287.04 358.67L287.40 358.67L287.75 358.67L288.11 358.67L288.46 358.67L288.82 358.67L289.17 358.67L289.53 358.67L289.88 358.67L290.24 358.67L290.59 358.67L290.94 358.67L291.30 358.67L291.65 358.67L292.01 358.67L292.36 358.67L292.72 358.67L293.07 358.67L293.43 358.67L293.78 358.67L294.14 358.67L294.49 358.67L294.85 358.67L295.20 358.67L295.55 358.67L295.91 358.67L296.26 358.59L296.62 358.34L296.97 357.90L297.33 357.28L297.68 356.48L298.04 355.51L298.39 354.38L298.75 353.10L299.10 351.68L299.46 350.12L299.81 348.45L300.17 346.67L300.52 344.79L300.87 342.84L301.23 340.82L301.58 338.76L301.94 336.67L302.29 334.56L302.65 332.46L303.00 330.37L303.36 328.32L303.71 326.32L304.07 324.38L304.42 322.53L304.78 320.77L305.13 319.13L305.48 317.60L305.84 316.22L306.19 314.97L306.55 313.88L306.90 312.96L307.26 312.21L307.61 311.63L307.97 311.24L308.32 311.03L308.68 311.00L309.03 311.16L309.39 311.51L309.74 312.04L310.09 312.75L310.45 313.63L310.80 314.68L311.16 315.88L311.51 317.23L311.87 318.72L312.22 320.34L312.58 322.07L312.93 323.90L313.29 325.81L313.64 327.80L314.00 329.84L314.35 331.92L314.71 334.02L315.06 336.13L315.41 338.22L315.77 340.30L316.12 342.32L316.48 344.29L316.83 346.19L317.19 348.00L317.54 349.70L317.90 351.29L318.25 352.75L318.61 354.07L318.96 355.24L319.32 356.25L319.67 357.09L320.02 357.75L320.38 358.24L320.73 358.55L321.09 358.67L321.44 358.67L321.80 358.67L322.15 358.67L322.51 358.67L322.86 358.67L323.22 358.67L323.57 358.67L323.93 358.67L324.28 358.67L324.64 358.67L324.99 358.67L325.34 358.67L325.70 358.67L326.05 358.67L326.41 358.67L326.76 358.67L327.12 358.67L327.47 358.67L327.83 358.67L328.18 358.67L328.54 358.67L328.89 358.67L329.25 358.67L329.60 358.67"/>
<path stroke="#1aa358" d="M52.50 507.70L76.00 507.70L76.13 507.83L77.01 507.56L77.86 507.26L78.71 506.96L79.54 506.64L80.35 506.31L81.15 505.96L81.94 505.60L82.72 505.23L83.48 504.84L84.23 504.44L84.97 504.03L85.70 503.61L86.42 503.18L87.12 502.73L87.81 502.28L88.50 501.81L89.17 501.33L89.83 500.84L90.48 500.35L91.12 499.84L91.76 499.32L92.38 498.80L92.99 498.26L93.60 497.72L94.20 497.16L94.78 496.60L95.36 496.03L95.94 495.46L96.50 494.87L97.06 494.28L97.61 493.68L98.15 493.08L98.69 492.47L99.22 491.85L99.75 491.22L100.26 490.59L100.78 489.95L101.28 489.31L101.78 488.66L102.28 488.01L102.77 487.35L103.25 486.68L103.73 486.02L104.21 485.34L104.68 484.66L105.15 483.98L105.61 483.29L106.07 482.60L106.52 481.91L106.97 481.21L107.42 480.51L107.87 479.80L108.31 479.10L108.75 478.39L109.18 477.67L109.62 476.96L110.05 476.24L110.48 475.52L110.90 474.80L111.33 474.07L111.75 473.35L112.17 472.62L112.60 471.89L113.02 471.16L113.44 470.43L113.85 469.70L114.27 468.97L114.69 468.24L115.11 467.51L115.53 466.78L115.94 466.05L116.36 465.32L116.78 464.59L117.20 463.86L117.62 463.13L118.05 462.40L118.47 461.68L118.89 460.95L119.32 460.23L119.75 459.51L120.18 458.79L120.61 458.07L121.04 457.35L121.47 456.63L121.91 455.92L122.34 455.21L122.78 454.49L123.22 453.78L123.66 453.08L124.10 452.37L124.54 451.66L124.99 450.96L125.44 450.26L125.89 449.56L126.34 448.86L126.79 448.16L127.24 447.47L127.70 446.77L128.16 446.08L128.62 445.39L129.08 444.70L129.54 444.02L130.01 443.34L130.48 442.65L130.95 441.97L131.42 441.30L131.89 440.62L132.37 439.95L132.84 439.28L133.32 438.61L133.81 437.94L134.29 437.28L134.78 436.61L135.27 435.95L135.76 435.30L136.25 434.64L136.75 433.99L137.25 433.34L137.75 432.69L138.25 432.04L138.76 431.40L139.26 430.76L139.77 430.12L140.29 429.48L140.80 428.85L141.32 428.22L141.84 427.59L142.37 426.96L142.89 426.34L143.42 425.72L143.95 425.10L144.49 424.49L145.03 423.88L145.57 423.27L146.11 422.66L146.66 422.06L147.20 421.46L147.76 420.86L148.31 420.27L148.87 419.67L149.43 419.09L149.99 418.50L150.56 417.92L151.13 417.34L151.70 416.76L152.28 416.19L152.86 415.62L153.44 415.05L154.03 414.49L154.62 413.93L155.21 413.37L155.80 412.82L156.40 412.27L157.01 411.72L157.61 411.18L158.22 410.64L158.83 410.10L159.45 409.57L160.07 409.04L160.69 408.51L161.32 407.99L161.95 407.47L162.58 406.96L163.22 406.44L163.86 405.94L164.51 405.43L165.16 404.93L165.81 404.44L166.47 403.94L167.13 403.45L167.79 402.97L168.46 402.49L169.13 402.01L169.80 401.54L170.48 401.07L171.17 400.60L171.86 400.14L172.55 399.68L173.24 399.23L173.94 398.78L174.65 398.33L175.35 397.89L176.07 397.45L176.78 397.02L177.50 396.59L178.23 396.17L178.96 395.75L179.69 395.33L180.43 394.92L181.17 394.52L181.92 394.11L182.67 393.71L183.43 393.32L184.19 392.93L184.95 392.55L185.72 392.17L186.49 391.79L187.27 391.42L188.05 391.05L188.10 390.85L329.60 390.85"/>
</g>
<path d="M126.50 288.70H186.00M126.50 448.80H186.00M126.50 288.70V448.80M186.00 288.70V448.80" fill="none" stroke="#f4b04a" stroke-width="1.5" stroke-dasharray="5.6 5.3"/>
<path d="M74.90 507.70V503.50M46.60 485.61H50.80M103.20 507.70V503.50M46.60 463.52H50.80M131.50 507.70V503.50M46.60 441.43H50.80M159.80 507.70V503.50M46.60 419.34H50.80M188.10 507.70V503.50M46.60 397.25H50.80M216.40 507.70V503.50M46.60 375.16H50.80M244.70 507.70V503.50M46.60 353.07H50.80M273.00 507.70V503.50M46.60 330.98H50.80M301.30 507.70V503.50M46.60 308.89H50.80" stroke="#000" stroke-width="2.2" fill="none"/>
<rect x="46.60" y="286.80" width="283.00" height="220.90" fill="none" stroke="#000" stroke-width="2.6"/>
<text class="tk" x="46.60" y="519.30" text-anchor="middle">0.0</text>
<text class="tk" x="41.60" y="510.40" text-anchor="end">0.0</text>
<text class="tk" x="74.90" y="519.30" text-anchor="middle">0.1</text>
<text class="tk" x="41.60" y="488.31" text-anchor="end">0.1</text>
<text class="tk" x="103.20" y="519.30" text-anchor="middle">0.2</text>
<text class="tk" x="41.60" y="466.22" text-anchor="end">0.2</text>
<text class="tk" x="131.50" y="519.30" text-anchor="middle">0.3</text>
<text class="tk" x="41.60" y="444.13" text-anchor="end">0.3</text>
<text class="tk" x="159.80" y="519.30" text-anchor="middle">0.4</text>
<text class="tk" x="41.60" y="422.04" text-anchor="end">0.4</text>
<text class="tk" x="188.10" y="519.30" text-anchor="middle">0.5</text>
<text class="tk" x="41.60" y="399.95" text-anchor="end">0.5</text>
<text class="tk" x="216.40" y="519.30" text-anchor="middle">0.6</text>
<text class="tk" x="41.60" y="377.86" text-anchor="end">0.6</text>
<text class="tk" x="244.70" y="519.30" text-anchor="middle">0.7</text>
<text class="tk" x="41.60" y="355.77" text-anchor="end">0.7</text>
<text class="tk" x="273.00" y="519.30" text-anchor="middle">0.8</text>
<text class="tk" x="41.60" y="333.68" text-anchor="end">0.8</text>
<text class="tk" x="301.30" y="519.30" text-anchor="middle">0.9</text>
<text class="tk" x="41.60" y="311.59" text-anchor="end">0.9</text>
<text class="tk" x="329.60" y="519.30" text-anchor="middle">1.0</text>
<text class="tk" x="41.60" y="289.50" text-anchor="end">1.0</text>
<path d="M264.60 395.90H281.80" stroke="#413f3d" stroke-width="2.00"/>
<path d="M264.60 404.90H281.80" stroke="#e32a27" stroke-width="2.00"/>
<path d="M264.60 415.40H281.80" stroke="#2a5bab" stroke-width="2.00"/>
<path d="M264.60 424.10H281.80" stroke="#1aa358" stroke-width="2.00"/>
<text class="lg" x="283.90" y="398.30" style="font-size:9.00px">Dis<tspan dx="0.50" dy="0.90" style="font-size:5.60px;font-style:normal">1</tspan></text>
<text class="lg" x="283.90" y="407.30" style="font-size:9.00px">Dis<tspan dx="0.50" dy="0.90" style="font-size:5.60px;font-style:normal">2</tspan></text>
<text class="lg" x="283.90" y="417.60" style="font-size:9.00px">Dis<tspan dx="0.60" dy="-3.10" style="font-size:6.60px;letter-spacing:0.10px;font-weight:bold">L−IF*</tspan></text>
<text class="lg" x="283.20" y="425.80" style="font-size:8.55px">ϱ<tspan dx="0.30" dy="0.80" style="font-size:5.60px;letter-spacing:1.30px;font-weight:bold">FSR−FMP</tspan></text>
<path d="M284.50 420.80q0.60 -0.90 1.30 -0.30t1.30 -0.30" fill="none" stroke="#222" stroke-width="0.55"/>
<rect x="209.10" y="429.20" width="82.70" height="62.00" fill="#fff"/>
<clipPath id="icc"><rect x="209.10" y="429.20" width="82.70" height="62.00"/></clipPath>
<g clip-path="url(#icc)" fill="none" stroke-width="0.80">
<path stroke="#413f3d" d="M189.35 437.28L190.49 437.08L191.64 436.88L192.80 436.69L193.98 436.50L195.16 436.31L196.36 436.12L197.56 435.94L198.78 435.75L200.02 435.58L201.26 435.40L202.51 435.22L203.78 435.05L205.06 434.88L206.35 434.71L207.65 434.55L208.96 434.39L210.28 434.23L211.62 434.07L212.97 433.91L214.33 433.76L215.70 433.61L217.08 433.46L218.48 433.31L219.88 433.17L221.30 433.03L222.73 432.89L224.17 432.76L225.62 432.62L227.09 432.49L228.57 432.36L230.05 432.24L231.55 432.11L233.06 431.99L234.59 431.87L236.12 431.75L237.67 431.64L239.23 431.53L240.80 431.42L242.38 431.31L243.97 431.21L245.58 431.10L247.20 431.01L248.83 430.91L250.47 430.81L252.12 430.72L253.78 430.63L255.46 430.54L257.15 430.46L258.85 430.37L260.56 430.29L262.28 430.22L264.02 430.14L265.76 430.07L267.52 430.00L269.29 429.93L271.08 429.86L272.87 429.80L274.68 429.74L276.49 429.68L278.32 429.63L280.16 429.57L282.02 429.52L283.88 429.47L285.76 429.43L287.65 429.38L289.55 429.34L291.46 429.30L291.56 429.30L294.13 429.34L296.69 429.38L299.25 429.42L301.81 429.46L304.37 429.51L306.94 429.55L309.50 429.59L312.06 429.63"/>
<path stroke="#e32a27" d="M189.22 441.36L190.27 441.10L191.32 440.86L192.39 440.61L193.46 440.36L194.55 440.12L195.64 439.88L196.75 439.64L197.87 439.40L198.99 439.17L200.13 438.94L201.28 438.71L202.44 438.48L203.61 438.25L204.79 438.03L205.98 437.81L207.18 437.59L208.39 437.37L209.62 437.16L210.85 436.95L212.10 436.74L213.36 436.53L214.63 436.32L215.91 436.12L217.20 435.92L218.50 435.72L219.81 435.53L221.14 435.33L222.47 435.14L223.82 434.95L225.18 434.77L226.55 434.58L227.94 434.40L229.33 434.22L230.74 434.05L232.16 433.87L233.58 433.70L235.03 433.53L236.48 433.36L237.95 433.20L239.42 433.04L240.91 432.88L242.42 432.72L243.93 432.57L245.46 432.41L247.00 432.27L248.55 432.12L250.11 431.97L251.69 431.83L253.27 431.69L254.87 431.56L256.49 431.42L258.11 431.29L259.75 431.16L261.40 431.04L263.07 430.91L264.75 430.79L266.44 430.67L268.14 430.56L269.85 430.45L271.58 430.34L273.32 430.23L275.08 430.12L276.85 430.02L278.63 429.92L280.42 429.83L282.23 429.73L284.05 429.64L285.89 429.55L287.73 429.47L289.60 429.39L291.47 429.31L291.53 429.31L293.95 429.40L296.38 429.48L298.81 429.57L301.25 429.65L303.69 429.74L306.14 429.82L308.60 429.90L311.06 429.98"/>
<path stroke="#2a5bab" d="M188.85 460.23L189.87 460.02L190.90 459.81L191.94 459.60L193.00 459.39L194.06 459.19L195.13 458.99L196.21 458.79L197.30 458.59L198.40 458.39L199.52 458.20L200.64 458.00L201.77 457.81L202.91 457.63L204.07 457.44L205.23 457.26L206.41 457.07L207.59 456.90L208.79 456.72L209.99 456.54L211.21 456.37L212.44 456.20L213.68 456.03L214.93 455.87L216.18 455.70L217.46 455.54L218.74 455.38L220.03 455.22L221.33 455.07L222.65 454.92L223.97 454.77L225.31 454.62L226.65 454.47L228.01 454.33L229.38 454.19L230.76 454.05L232.15 453.91L233.56 453.78L234.97 453.64L236.40 453.51L237.83 453.39L239.28 453.26L240.74 453.14L242.21 453.02L243.69 452.90L245.19 452.79L246.69 452.67L248.21 452.56L249.74 452.45L251.28 452.35L252.83 452.24L254.39 452.14L255.97 452.04L257.56 451.95L259.15 451.85L260.77 451.76L262.39 451.67L264.02 451.59L265.67 451.50L267.33 451.42L269.00 451.34L270.68 451.27L272.37 451.19L274.08 451.12L275.80 451.05L277.53 450.99L279.28 450.92L281.03 450.86L282.80 450.80L284.58 450.74L286.37 450.69L288.18 450.64L289.99 450.59L291.82 450.54L291.80 450.53L292.32 450.53L292.84 450.53L293.35 450.53L293.87 450.53L294.39 450.53L294.91 450.53L295.43 450.53L295.95 450.53L296.46 450.53L296.98 450.53L297.50 450.53L298.02 450.53L298.54 450.53L299.05 450.53L299.57 450.53L300.09 450.53L300.61 450.53L301.13 450.53L301.65 450.53L302.16 450.53L302.68 450.53L303.20 450.53L303.72 450.53L304.24 450.53L304.75 450.53L305.27 450.53L305.79 450.53L306.31 450.53L306.83 450.53L307.35 450.53L307.86 450.53L308.38 450.53L308.90 450.53L309.42 450.53L309.94 450.53L310.45 450.53L310.97 450.53L311.49 450.53L312.01 450.53"/>
<path stroke="#1aa358" d="M188.82 482.07L189.44 481.85L190.06 481.63L190.68 481.41L191.30 481.20L191.93 480.98L192.55 480.76L193.18 480.54L193.81 480.33L194.45 480.11L195.08 479.90L195.72 479.68L196.36 479.46L197.00 479.25L197.64 479.04L198.29 478.82L198.94 478.61L199.59 478.40L200.24 478.19L200.90 477.97L201.56 477.76L202.22 477.55L202.88 477.34L203.55 477.13L204.22 476.92L204.89 476.72L205.56 476.51L206.24 476.30L206.92 476.10L207.60 475.89L208.29 475.68L208.98 475.48L209.67 475.28L210.37 475.07L211.06 474.87L211.77 474.67L212.47 474.47L213.18 474.27L213.89 474.07L214.60 473.87L215.32 473.67L216.04 473.47L216.77 473.27L217.50 473.08L218.23 472.88L218.96 472.68L219.70 472.49L220.44 472.30L221.19 472.10L221.94 471.91L222.69 471.72L223.45 471.53L224.21 471.34L224.98 471.15L225.75 470.96L226.52 470.78L227.30 470.59L228.08 470.40L228.86 470.22L229.65 470.04L230.45 469.85L231.24 469.67L232.05 469.49L232.85 469.31L233.66 469.13L234.48 468.95L235.30 468.77L236.12 468.60L236.95 468.42L237.78 468.25L238.62 468.07L239.46 467.90L240.31 467.73L241.16 467.56L242.01 467.39L242.88 467.22L243.74 467.05L244.61 466.88L245.49 466.71L246.37 466.55L247.25 466.39L248.14 466.22L249.04 466.06L249.94 465.90L250.84 465.74L251.75 465.58L252.67 465.42L253.59 465.27L254.52 465.11L255.45 464.96L256.39 464.80L257.33 464.65L258.28 464.50L259.23 464.35L260.19 464.20L261.15 464.05L262.12 463.91L263.10 463.76L264.08 463.62L265.07 463.47L266.06 463.33L267.06 463.19L268.06 463.05L269.08 462.91L270.09 462.78L271.11 462.64L272.14 462.51L273.18 462.37L274.22 462.24L275.27 462.11L276.32 461.98L277.38 461.85L278.44 461.73L279.51 461.60L280.59 461.48L281.68 461.35L282.77 461.23L283.87 461.11L284.97 460.99L286.08 460.88L287.20 460.76L288.32 460.65L289.45 460.53L290.59 460.42L291.73 460.31L291.80 460.25"/>
</g>
<path d="M271.50 465.30H276.50" stroke="#444" stroke-width="0.50"/>
<path d="M271.50 467.80H276.50" stroke="#e33" stroke-width="0.50"/>
<path d="M271.50 471.30H276.50" stroke="#47c" stroke-width="0.60"/>
<path d="M271.50 474.40H276.50" stroke="#3a6" stroke-width="0.50"/>
<text class="ilg" x="277.40" y="465.99" style="font-size:2.60px">Dis<tspan dx="0.14" dy="0.26" style="font-size:1.62px;font-style:normal">1</tspan></text>
<text class="ilg" x="277.40" y="468.49" style="font-size:2.60px">Dis<tspan dx="0.14" dy="0.26" style="font-size:1.62px;font-style:normal">2</tspan></text>
<text class="ilg" x="277.40" y="471.94" style="font-size:2.60px">Dis<tspan dx="0.17" dy="-0.90" style="font-size:1.91px;letter-spacing:0.03px;font-weight:bold">L−IF*</tspan></text>
<text class="ilg" x="277.20" y="474.89" style="font-size:2.47px">ϱ<tspan dx="0.09" dy="0.23" style="font-size:1.62px;letter-spacing:0.38px;font-weight:bold">FSR−FMP</tspan></text>
<path d="M277.57 473.45q0.17 -0.26 0.38 -0.09t0.38 -0.09" fill="none" stroke="#222" stroke-width="0.16"/>
<path d="M209.10 491.20V490.00M217.37 491.20V490.00M225.64 491.20V490.00M233.91 491.20V490.00M242.18 491.20V490.00M250.45 491.20V490.00M258.72 491.20V490.00M266.99 491.20V490.00M275.26 491.20V490.00M283.53 491.20V490.00M291.80 491.20V490.00M209.10 488.86H210.30M209.10 482.19H210.30M209.10 475.52H210.30M209.10 468.85H210.30M209.10 462.18H210.30M209.10 455.51H210.30M209.10 448.84H210.30M209.10 442.17H210.30M209.10 435.50H210.30" stroke="#222" stroke-width="0.6" fill="none"/>
<rect x="209.10" y="429.20" width="82.70" height="62.00" fill="none" stroke="#222" stroke-width="0.90"/>
<text class="itk" x="209.10" y="494.80" text-anchor="middle" style="font-size:2.90px">0.30</text>
<text class="itk" x="217.37" y="494.80" text-anchor="middle" style="font-size:2.90px">0.32</text>
<text class="itk" x="225.64" y="494.80" text-anchor="middle" style="font-size:2.90px">0.34</text>
<text class="itk" x="233.91" y="494.80" text-anchor="middle" style="font-size:2.90px">0.36</text>
<text class="itk" x="242.18" y="494.80" text-anchor="middle" style="font-size:2.90px">0.38</text>
<text class="itk" x="250.45" y="494.80" text-anchor="middle" style="font-size:2.90px">0.40</text>
<text class="itk" x="258.72" y="494.80" text-anchor="middle" style="font-size:2.90px">0.42</text>
<text class="itk" x="266.99" y="494.80" text-anchor="middle" style="font-size:2.90px">0.44</text>
<text class="itk" x="275.26" y="494.80" text-anchor="middle" style="font-size:2.90px">0.46</text>
<text class="itk" x="283.53" y="494.80" text-anchor="middle" style="font-size:2.90px">0.48</text>
<text class="itk" x="291.80" y="494.80" text-anchor="middle" style="font-size:2.90px">0.50</text>
<text class="itk" x="208.20" y="489.82" text-anchor="end" style="font-size:2.90px">0.1</text>
<text class="itk" x="208.20" y="483.15" text-anchor="end" style="font-size:2.90px">0.2</text>
<text class="itk" x="208.20" y="476.48" text-anchor="end" style="font-size:2.90px">0.3</text>
<text class="itk" x="208.20" y="469.81" text-anchor="end" style="font-size:2.90px">0.4</text>
<text class="itk" x="208.20" y="463.14" text-anchor="end" style="font-size:2.90px">0.5</text>
<text class="itk" x="208.20" y="456.47" text-anchor="end" style="font-size:2.90px">0.6</text>
<text class="itk" x="208.20" y="449.80" text-anchor="end" style="font-size:2.90px">0.7</text>
<text class="itk" x="208.20" y="443.13" text-anchor="end" style="font-size:2.90px">0.8</text>
<text class="itk" x="208.20" y="436.46" text-anchor="end" style="font-size:2.90px">0.9</text>
<text class="ixl" x="250.45" y="498.30" text-anchor="middle" style="font-size:3.00px">varying variance parameter</text>
<text class="ixl" transform="translate(202.40 461.00) rotate(-90)" x="0" y="0" text-anchor="middle" textLength="55.0" lengthAdjust="spacingAndGlyphs" style="font-size:2.80px">Lower bound of our utilitarian degree function</text>
<path d="M190.40 398.90L208.66 419.23" stroke="#111" stroke-width="1.1" fill="none"/>
<path d="M212.40 423.40L206.50 419.83L209.48 417.15Z" fill="#111"/>
<clipPath id="clipd"><rect x="395.80" y="286.90" width="283.00" height="220.80"/></clipPath>
<g clip-path="url(#clipd)" fill="none" stroke-width="2.1" stroke-linejoin="round" stroke-linecap="round">
<path stroke="#413f3d" d="M402.51 439.84L403.70 439.60L404.83 439.29L405.91 438.93L406.93 438.52L407.90 438.05L408.83 437.53L409.70 436.97L410.53 436.36L411.31 435.71L412.06 435.02L412.76 434.29L413.43 433.52L414.07 432.72L414.67 431.88L415.24 431.02L415.78 430.12L416.30 429.20L416.79 428.26L417.26 427.29L417.71 426.30L418.14 425.29L418.55 424.27L418.95 423.23L419.34 422.18L419.72 421.13L420.09 420.06L420.45 418.99L420.81 417.91L421.17 416.83L421.52 415.74L421.86 414.65L422.20 413.55L422.54 412.46L422.87 411.35L423.20 410.24L423.53 409.13L423.85 408.02L424.17 406.90L424.49 405.78L424.80 404.66L425.11 403.54L425.42 402.41L425.73 401.28L426.04 400.15L426.34 399.01L426.64 397.88L426.94 396.75L427.24 395.61L427.54 394.47L427.84 393.33L428.14 392.19L428.44 391.06L428.74 389.92L429.03 388.78L429.33 387.64L429.63 386.50L429.93 385.37L430.23 384.23L430.53 383.10L430.84 381.96L431.14 380.83L431.45 379.70L431.76 378.57L432.07 377.45L432.38 376.33L432.70 375.21L433.02 374.09L433.34 372.97L433.67 371.86L434.00 370.75L434.33 369.65L434.66 368.55L435.00 367.45L435.35 366.36L435.70 365.27L436.05 364.19L436.41 363.11L436.77 362.04L437.14 360.97L437.52 359.91L437.90 358.85L438.28 357.80L438.67 356.76L439.07 355.72L439.48 354.69L439.89 353.66L440.31 352.64L440.73 351.63L441.16 350.63L441.60 349.63L442.05 348.64L442.51 347.66L442.97 346.69L443.44 345.72L443.92 344.76L444.41 343.81L444.90 342.87L445.41 341.94L445.92 341.01L446.43 340.09L446.96 339.18L447.49 338.28L448.04 337.38L448.59 336.50L449.14 335.62L449.71 334.75L450.28 333.88L450.86 333.03L451.45 332.18L452.05 331.34L452.66 330.51L453.27 329.68L453.89 328.87L454.52 328.06L455.15 327.26L455.80 326.47L456.45 325.68L457.11 324.91L457.78 324.14L458.46 323.38L459.14 322.62L459.83 321.88L460.53 321.14L461.24 320.41L461.95 319.69L462.68 318.98L463.41 318.27L464.15 317.57L464.90 316.89L465.65 316.20L466.41 315.53L467.19 314.86L467.96 314.21L468.75 313.56L469.55 312.91L470.35 312.28L471.16 311.65L471.98 311.04L472.81 310.43L473.64 309.82L474.48 309.23L475.33 308.64L476.19 308.06L477.06 307.49L477.93 306.93L478.82 306.38L479.71 305.83L480.60 305.29L481.51 304.76L482.43 304.24L483.35 303.73L484.28 303.22L485.22 302.72L486.16 302.23L487.12 301.75L488.08 301.27L489.05 300.81L490.03 300.35L491.01 299.90L492.01 299.45L493.01 299.02L494.02 298.59L495.04 298.17L496.07 297.76L497.10 297.36L498.14 296.97L499.19 296.58L500.25 296.20L501.32 295.83L502.39 295.47L503.48 295.11L504.57 294.77L505.67 294.43L506.77 294.10L507.89 293.78L509.01 293.46L510.14 293.16L511.28 292.86L512.43 292.57L513.58 292.29L514.75 292.01L515.92 291.75L517.10 291.49L518.29 291.24L519.48 291.00L520.68 290.77L521.90 290.54L523.12 290.32L524.34 290.11L525.58 289.91L526.82 289.72L528.08 289.54L529.34 289.36L530.60 289.19L531.88 289.03L533.17 288.88L534.46 288.73L535.76 288.60L537.07 288.47L537.14 288.46L538.89 288.60L540.65 288.73L542.40 288.87L544.15 289.00L545.91 289.14L547.66 289.27L549.41 289.41L551.17 289.54L552.92 289.68L554.67 289.81L556.43 289.95L558.18 290.08L559.94 290.21L561.69 290.35L563.45 290.48L565.21 290.61L566.96 290.74L568.72 290.87L570.48 291.00L572.24 291.13L574.00 291.26L575.76 291.39L577.52 291.52L579.28 291.64L581.05 291.77L582.81 291.89L584.57 292.02L586.34 292.14L588.11 292.26L589.88 292.38L591.65 292.50L593.42 292.62L595.19 292.73L596.96 292.85L598.74 292.96L600.51 293.08L602.29 293.19L604.07 293.30L605.85 293.40L607.63 293.51L609.41 293.62L611.20 293.72L612.99 293.82L614.77 293.92L616.56 294.02L618.36 294.12L620.15 294.21L621.95 294.30L623.74 294.39L625.54 294.48L627.35 294.57L629.15 294.65L630.96 294.74L632.76 294.82L634.58 294.89L636.39 294.97L638.20 295.04L640.02 295.12L641.84 295.18L643.66 295.25L645.49 295.31L647.31 295.38L649.14 295.43L650.98 295.49L652.81 295.54L654.65 295.59L656.49 295.64L658.33 295.69L660.18 295.73L662.03 295.77L663.88 295.81L665.74 295.84L667.59 295.87L669.45 295.90L671.32 295.92L673.19 295.94L675.06 295.96L676.93 295.98L678.81 295.99"/>
<path stroke="#e32a27" d="M402.27 461.59L403.60 461.37L404.85 461.08L406.04 460.72L407.16 460.29L408.23 459.81L409.24 459.27L410.20 458.68L411.10 458.04L411.96 457.35L412.77 456.62L413.54 455.84L414.27 455.02L414.97 454.17L415.63 453.29L416.26 452.37L416.86 451.42L417.43 450.44L417.97 449.43L418.48 448.40L418.97 447.34L419.44 446.27L419.89 445.17L420.32 444.05L420.73 442.92L421.13 441.77L421.51 440.60L421.89 439.43L422.25 438.24L422.60 437.05L422.95 435.85L423.30 434.65L423.64 433.44L423.97 432.23L424.31 431.02L424.65 429.81L424.98 428.60L425.31 427.38L425.64 426.16L425.97 424.95L426.30 423.73L426.63 422.51L426.95 421.29L427.28 420.06L427.60 418.84L427.93 417.62L428.25 416.40L428.58 415.18L428.90 413.96L429.23 412.73L429.56 411.51L429.88 410.29L430.21 409.07L430.54 407.85L430.87 406.64L431.20 405.42L431.53 404.21L431.87 402.99L432.20 401.78L432.54 400.57L432.88 399.37L433.22 398.16L433.57 396.96L433.91 395.76L434.26 394.56L434.62 393.36L434.97 392.17L435.33 390.98L435.69 389.80L436.06 388.62L436.43 387.44L436.80 386.26L437.18 385.09L437.56 383.93L437.94 382.76L438.33 381.61L438.72 380.45L439.12 379.30L439.53 378.16L439.93 377.02L440.35 375.89L440.77 374.76L441.19 373.64L441.62 372.52L442.05 371.41L442.50 370.30L442.94 369.20L443.39 368.10L443.85 367.01L444.31 365.93L444.78 364.85L445.26 363.78L445.74 362.71L446.22 361.65L446.71 360.59L447.21 359.54L447.71 358.50L448.22 357.46L448.74 356.43L449.26 355.40L449.78 354.38L450.32 353.36L450.86 352.36L451.40 351.35L451.95 350.36L452.51 349.37L453.07 348.38L453.64 347.41L454.22 346.43L454.80 345.47L455.39 344.51L455.98 343.56L456.58 342.61L457.19 341.67L457.80 340.74L458.43 339.81L459.05 338.89L459.69 337.98L460.33 337.07L460.97 336.17L461.63 335.28L462.29 334.39L462.95 333.51L463.63 332.63L464.31 331.77L464.99 330.91L465.69 330.05L466.39 329.21L467.10 328.37L467.81 327.53L468.53 326.71L469.26 325.89L470.00 325.08L470.74 324.27L471.49 323.48L472.25 322.69L473.01 321.90L473.78 321.13L474.56 320.36L475.35 319.60L476.14 318.84L476.94 318.10L477.75 317.36L478.56 316.62L479.39 315.90L480.22 315.18L481.06 314.47L481.90 313.77L482.75 313.08L483.61 312.39L484.48 311.71L485.36 311.04L486.24 310.37L487.13 309.72L488.03 309.07L488.94 308.43L489.85 307.80L490.78 307.17L491.71 306.55L492.65 305.95L493.59 305.34L494.55 304.75L495.51 304.17L496.48 303.59L497.46 303.02L498.44 302.46L499.44 301.91L500.44 301.36L501.45 300.83L502.47 300.30L503.50 299.78L504.54 299.27L505.58 298.77L506.64 298.27L507.70 297.79L508.77 297.31L509.85 296.84L510.93 296.38L512.03 295.93L513.13 295.48L514.25 295.05L515.37 294.62L516.50 294.21L517.64 293.80L518.78 293.40L519.94 293.01L521.11 292.62L522.28 292.25L523.46 291.89L524.66 291.53L525.86 291.18L527.07 290.85L528.29 290.52L529.51 290.20L530.75 289.89L532.00 289.59L533.25 289.29L534.52 289.01L535.79 288.74L537.07 288.47L537.11 288.48L538.77 288.78L540.43 289.07L542.10 289.35L543.77 289.63L545.44 289.91L547.12 290.18L548.80 290.45L550.48 290.71L552.18 290.97L553.87 291.22L555.57 291.47L557.27 291.72L558.98 291.96L560.69 292.20L562.40 292.44L564.12 292.67L565.84 292.89L567.57 293.12L569.30 293.34L571.03 293.55L572.77 293.76L574.51 293.97L576.26 294.18L578.00 294.38L579.76 294.57L581.51 294.77L583.27 294.96L585.03 295.14L586.80 295.33L588.57 295.51L590.34 295.68L592.12 295.86L593.90 296.03L595.68 296.19L597.47 296.35L599.26 296.51L601.05 296.67L602.85 296.82L604.65 296.97L606.45 297.12L608.25 297.27L610.06 297.41L611.87 297.54L613.69 297.68L615.51 297.81L617.33 297.94L619.15 298.07L620.97 298.19L622.80 298.31L624.63 298.43L626.47 298.54L628.31 298.66L630.15 298.77L631.99 298.87L633.83 298.98L635.68 299.08L637.53 299.18L639.38 299.28L641.24 299.37L643.09 299.46L644.95 299.55L646.82 299.64L648.68 299.72L650.55 299.81L652.42 299.89L654.29 299.97L656.16 300.04L658.04 300.11L659.91 300.19L661.79 300.26L663.68 300.32L665.56 300.39L667.45 300.45L669.33 300.51L671.22 300.57L673.11 300.63L675.01 300.69L676.90 300.74L678.80 300.79"/>
<path stroke="#2a5bab" d="M401.70 507.70L406.70 507.70L406.83 507.83L407.87 507.46L408.86 507.05L409.80 506.58L410.69 506.07L411.54 505.52L412.36 504.93L413.13 504.29L413.86 503.62L414.56 502.92L415.23 502.18L415.86 501.41L416.47 500.61L417.05 499.79L417.60 498.93L418.13 498.06L418.63 497.16L419.12 496.24L419.59 495.30L420.04 494.35L420.47 493.38L420.90 492.40L421.31 491.40L421.71 490.40L422.11 489.40L422.50 488.38L422.88 487.36L423.27 486.34L423.64 485.31L424.01 484.28L424.38 483.24L424.75 482.20L425.11 481.16L425.46 480.11L425.81 479.06L426.16 478.00L426.51 476.94L426.85 475.88L427.20 474.82L427.53 473.75L427.87 472.68L428.20 471.61L428.54 470.54L428.87 469.47L429.19 468.39L429.52 467.31L429.85 466.24L430.17 465.16L430.50 464.08L430.82 463.00L431.15 461.92L431.47 460.84L431.79 459.76L432.12 458.67L432.44 457.59L432.77 456.52L433.09 455.44L433.42 454.36L433.75 453.28L434.08 452.21L434.41 451.13L434.74 450.06L435.08 448.99L435.42 447.93L435.76 446.86L436.10 445.80L436.44 444.74L436.79 443.68L437.14 442.63L437.50 441.58L437.85 440.53L438.22 439.49L438.58 438.45L438.95 437.42L439.33 436.39L439.70 435.36L440.09 434.34L440.48 433.32L440.87 432.31L441.27 431.31L441.67 430.31L442.08 429.31L442.50 428.32L442.92 427.34L443.35 426.36L443.78 425.39L444.22 424.43L444.67 423.47L445.12 422.51L445.57 421.57L446.04 420.62L446.51 419.69L446.98 418.76L447.46 417.83L447.95 416.92L448.44 416.00L448.94 415.10L449.44 414.20L449.95 413.30L450.47 412.42L450.99 411.54L451.52 410.66L452.06 409.79L452.60 408.93L453.15 408.07L453.70 407.22L454.26 406.38L454.83 405.54L455.41 404.71L455.98 403.88L456.57 403.07L457.16 402.25L457.76 401.45L458.37 400.65L458.98 399.86L459.60 399.07L460.22 398.29L460.86 397.52L461.49 396.75L462.14 395.99L462.79 395.24L463.45 394.49L464.11 393.75L464.79 393.02L465.46 392.29L466.15 391.57L466.84 390.86L467.54 390.16L468.25 389.46L468.96 388.76L469.68 388.08L470.40 387.40L471.14 386.73L471.88 386.06L472.62 385.41L473.38 384.76L474.14 384.11L474.91 383.48L475.68 382.85L476.47 382.22L477.26 381.61L478.05 381.00L478.86 380.40L479.67 379.81L480.49 379.22L481.31 378.64L482.14 378.07L482.98 377.50L483.83 376.95L484.69 376.40L485.55 375.85L486.42 375.32L487.30 374.79L488.18 374.27L489.07 373.76L489.97 373.25L490.88 372.76L491.79 372.26L492.71 371.78L493.64 371.31L494.58 370.84L495.53 370.38L496.48 369.93L497.44 369.48L498.41 369.04L499.38 368.62L500.36 368.19L501.36 367.78L502.35 367.37L503.36 366.98L504.38 366.59L505.40 366.20L506.43 365.83L507.47 365.46L508.51 365.10L509.57 364.75L510.63 364.41L511.70 364.07L512.78 363.75L513.86 363.43L514.96 363.12L516.06 362.82L517.17 362.52L518.29 362.24L519.42 361.96L520.55 361.69L521.69 361.43L522.85 361.17L524.01 360.93L525.17 360.69L526.35 360.46L527.53 360.24L528.73 360.03L529.93 359.83L531.14 359.63L532.36 359.45L533.58 359.27L534.82 359.10L536.06 358.94L537.32 358.78L537.30 358.73L537.65 358.73L538.01 358.73L538.36 358.73L538.72 358.73L539.07 358.73L539.43 358.73L539.78 358.73L540.14 358.73L540.49 358.73L540.85 358.73L541.20 358.73L541.56 358.73L541.91 358.73L542.26 358.73L542.62 358.73L542.97 358.73L543.33 358.73L543.68 358.73L544.04 358.73L544.39 358.73L544.75 358.73L545.10 358.73L545.46 358.73L545.81 358.73L546.17 358.73L546.52 358.73L546.88 358.73L547.23 358.73L547.58 358.73L547.94 358.73L548.29 358.73L548.65 358.73L549.00 358.73L549.36 358.73L549.71 358.73L550.07 358.73L550.42 358.73L550.78 358.73L551.13 358.73L551.49 358.73L551.84 358.73L552.19 358.73L552.55 358.73L552.90 358.73L553.26 358.73L553.61 358.73L553.97 358.73L554.32 358.73L554.68 358.73L555.03 358.73L555.39 358.73L555.74 358.73L556.10 358.73L556.45 358.73L556.81 358.73L557.16 358.73L557.51 358.73L557.87 358.73L558.22 358.73L558.58 358.73L558.93 358.73L559.29 358.73L559.64 358.73L560.00 358.73L560.35 358.73L560.71 358.58L561.06 358.25L561.42 357.74L561.77 357.05L562.12 356.18L562.48 355.15L562.83 353.96L563.19 352.62L563.54 351.14L563.90 349.54L564.25 347.82L564.61 346.00L564.96 344.09L565.32 342.11L565.67 340.08L566.03 338.00L566.38 335.90L566.73 333.80L567.09 331.70L567.44 329.62L567.80 327.59L568.15 325.62L568.51 323.71L568.86 321.90L569.22 320.19L569.57 318.59L569.93 317.12L570.28 315.79L570.64 314.61L570.99 313.58L571.35 312.73L571.70 312.04L572.05 311.54L572.41 311.22L572.76 311.08L573.12 311.13L573.47 311.37L573.83 311.79L574.18 312.39L574.54 313.17L574.89 314.12L575.25 315.23L575.60 316.49L575.96 317.90L576.31 319.44L576.66 321.10L577.02 322.87L577.37 324.74L577.73 326.68L578.08 328.69L578.44 330.74L578.79 332.83L579.15 334.94L579.50 337.04L579.86 339.13L580.21 341.19L580.57 343.19L580.92 345.14L581.27 347.00L581.63 348.76L581.98 350.42L582.34 351.96L582.69 353.36L583.05 354.62L583.40 355.73L583.76 356.67L584.11 357.44L584.47 358.04L584.82 358.45L585.18 358.68L585.53 358.73L585.89 358.73L586.24 358.73L586.59 358.73L586.95 358.73L587.30 358.73L587.66 358.73L588.01 358.73L588.37 358.73L588.72 358.73L589.08 358.73L589.43 358.73L589.79 358.73L590.14 358.73L590.50 358.73L590.85 358.73L591.20 358.73L591.56 358.73L591.91 358.73L592.27 358.73L592.62 358.73L592.98 358.73L593.33 358.73L593.69 358.73L594.04 358.73L594.40 358.73L594.75 358.73L595.11 358.73L595.46 358.73L595.82 358.73L596.17 358.73L596.52 358.73L596.88 358.73L597.23 358.73L597.59 358.73L597.94 358.73L598.30 358.73L598.65 358.73L599.01 358.73L599.36 358.73L599.72 358.73L600.07 358.73L600.43 358.73L600.78 358.73L601.13 358.73L601.49 358.73L601.84 358.73L602.20 358.73L602.55 358.73L602.91 358.70L603.26 358.50L603.62 358.12L603.97 357.55L604.33 356.80L604.68 355.89L605.04 354.81L605.39 353.57L605.74 352.19L606.10 350.67L606.45 349.03L606.81 347.28L607.16 345.44L607.52 343.51L607.87 341.51L608.23 339.46L608.58 337.38L608.94 335.27L609.29 333.17L609.65 331.07L610.00 329.01L610.36 326.99L610.71 325.04L611.06 323.16L611.42 321.37L611.77 319.69L612.13 318.13L612.48 316.70L612.84 315.42L613.19 314.28L613.55 313.31L613.90 312.50L614.26 311.87L614.61 311.42L614.97 311.16L615.32 311.08L615.67 311.19L616.03 311.48L616.38 311.95L616.74 312.61L617.09 313.44L617.45 314.43L617.80 315.59L618.16 316.90L618.51 318.35L618.87 319.93L619.22 321.62L619.58 323.42L619.93 325.31L620.28 327.28L620.64 329.30L620.99 331.37L621.35 333.46L621.70 335.57L622.06 337.67L622.41 339.75L622.77 341.80L623.12 343.78L623.48 345.70L623.83 347.54L624.19 349.27L624.54 350.90L624.90 352.40L625.25 353.76L625.60 354.97L625.96 356.03L626.31 356.92L626.67 357.64L627.02 358.18L627.38 358.54L627.73 358.72L628.09 358.73L628.44 358.73L628.80 358.73L629.15 358.73L629.51 358.73L629.86 358.73L630.21 358.73L630.57 358.73L630.92 358.73L631.28 358.73L631.63 358.73L631.99 358.73L632.34 358.73L632.70 358.73L633.05 358.73L633.41 358.73L633.76 358.73L634.12 358.73L634.47 358.73L634.83 358.73L635.18 358.73L635.53 358.73L635.89 358.73L636.24 358.73L636.60 358.73L636.95 358.73L637.31 358.73L637.66 358.73L638.02 358.73L638.37 358.73L638.73 358.73L639.08 358.73L639.44 358.73L639.79 358.73L640.14 358.73L640.50 358.73L640.85 358.73L641.21 358.73L641.56 358.73L641.92 358.73L642.27 358.73L642.63 358.73L642.98 358.73L643.34 358.73L643.69 358.73L644.05 358.73L644.40 358.73L644.75 358.73L645.11 358.73L645.46 358.66L645.82 358.41L646.17 357.96L646.53 357.34L646.88 356.55L647.24 355.58L647.59 354.45L647.95 353.17L648.30 351.75L648.66 350.19L649.01 348.52L649.37 346.74L649.72 344.86L650.07 342.91L650.43 340.90L650.78 338.84L651.14 336.75L651.49 334.64L651.85 332.54L652.20 330.45L652.56 328.40L652.91 326.40L653.27 324.47L653.62 322.61L653.98 320.86L654.33 319.21L654.68 317.69L655.04 316.30L655.39 315.06L655.75 313.97L656.10 313.05L656.46 312.30L656.81 311.72L657.17 311.33L657.52 311.11L657.88 311.09L658.23 311.25L658.59 311.60L658.94 312.13L659.29 312.84L659.65 313.72L660.00 314.76L660.36 315.97L660.71 317.32L661.07 318.81L661.42 320.42L661.78 322.15L662.13 323.98L662.49 325.89L662.84 327.88L663.20 329.92L663.55 332.00L663.91 334.10L664.26 336.20L664.61 338.30L664.97 340.37L665.32 342.40L665.68 344.37L666.03 346.26L666.39 348.07L666.74 349.77L667.10 351.36L667.45 352.82L667.81 354.14L668.16 355.31L668.52 356.31L668.87 357.15L669.22 357.82L669.58 358.31L669.93 358.61L670.29 358.73L670.64 358.73L671.00 358.73L671.35 358.73L671.71 358.73L672.06 358.73L672.42 358.73L672.77 358.73L673.13 358.73L673.48 358.73L673.84 358.73L674.19 358.73L674.54 358.73L674.90 358.73L675.25 358.73L675.61 358.73L675.96 358.73L676.32 358.73L676.67 358.73L677.03 358.73L677.38 358.73L677.74 358.73L678.09 358.73L678.45 358.73L678.80 358.73"/>
<path stroke="#1aa358" d="M401.70 507.70L425.20 507.70L425.33 507.83L426.21 507.56L427.06 507.26L427.91 506.96L428.74 506.64L429.55 506.31L430.35 505.96L431.14 505.60L431.92 505.23L432.68 504.84L433.43 504.44L434.17 504.03L434.90 503.61L435.62 503.18L436.32 502.73L437.01 502.28L437.70 501.81L438.37 501.33L439.03 500.85L439.68 500.35L440.32 499.84L440.96 499.33L441.58 498.80L442.19 498.27L442.80 497.72L443.40 497.17L443.98 496.61L444.56 496.04L445.14 495.46L445.70 494.88L446.26 494.29L446.81 493.69L447.35 493.08L447.89 492.47L448.42 491.85L448.95 491.23L449.46 490.60L449.98 489.96L450.48 489.32L450.98 488.67L451.48 488.02L451.97 487.36L452.45 486.69L452.93 486.03L453.41 485.35L453.88 484.67L454.35 483.99L454.81 483.31L455.27 482.61L455.72 481.92L456.17 481.22L456.62 480.52L457.07 479.82L457.51 479.11L457.95 478.40L458.38 477.69L458.82 476.97L459.25 476.25L459.68 475.53L460.10 474.81L460.53 474.09L460.95 473.36L461.37 472.64L461.80 471.91L462.22 471.18L462.64 470.45L463.05 469.72L463.47 468.99L463.89 468.26L464.31 467.53L464.73 466.80L465.14 466.07L465.56 465.34L465.98 464.61L466.40 463.88L466.82 463.15L467.25 462.42L467.67 461.70L468.09 460.97L468.52 460.25L468.95 459.53L469.38 458.81L469.81 458.09L470.24 457.37L470.67 456.66L471.11 455.94L471.54 455.23L471.98 454.52L472.42 453.81L472.86 453.10L473.30 452.39L473.74 451.69L474.19 450.99L474.64 450.28L475.09 449.58L475.54 448.88L475.99 448.19L476.44 447.49L476.90 446.80L477.36 446.11L477.82 445.42L478.28 444.73L478.74 444.05L479.21 443.36L479.68 442.68L480.15 442.00L480.62 441.33L481.09 440.65L481.57 439.98L482.04 439.31L482.52 438.64L483.01 437.97L483.49 437.31L483.98 436.65L484.47 435.99L484.96 435.33L485.45 434.67L485.95 434.02L486.45 433.37L486.95 432.72L487.45 432.08L487.96 431.43L488.46 430.79L488.97 430.15L489.49 429.52L490.00 428.88L490.52 428.25L491.04 427.63L491.57 427.00L492.09 426.38L492.62 425.76L493.15 425.14L493.69 424.53L494.23 423.91L494.77 423.31L495.31 422.70L495.86 422.10L496.40 421.50L496.96 420.90L497.51 420.30L498.07 419.71L498.63 419.13L499.19 418.54L499.76 417.96L500.33 417.38L500.90 416.80L501.48 416.23L502.06 415.66L502.64 415.09L503.23 414.53L503.82 413.97L504.41 413.41L505.00 412.86L505.60 412.31L506.21 411.76L506.81 411.22L507.42 410.68L508.03 410.15L508.65 409.61L509.27 409.08L509.89 408.56L510.52 408.04L511.15 407.52L511.78 407.00L512.42 406.49L513.06 405.98L513.71 405.48L514.36 404.98L515.01 404.48L515.67 403.99L516.33 403.50L516.99 403.02L517.66 402.53L518.33 402.06L519.00 401.58L519.68 401.11L520.37 400.65L521.06 400.19L521.75 399.73L522.44 399.28L523.14 398.83L523.85 398.38L524.55 397.94L525.27 397.50L525.98 397.07L526.70 396.64L527.43 396.22L528.16 395.80L528.89 395.38L529.63 394.97L530.37 394.57L531.12 394.16L531.87 393.77L532.63 393.37L533.39 392.98L534.15 392.60L534.92 392.22L535.69 391.84L536.47 391.47L537.25 391.11L537.30 390.91L678.80 390.91"/>
</g>
<path d="M480.20 293.30H539.50M480.20 435.10H539.50M480.20 293.30V435.10M539.50 293.30V435.10" fill="none" stroke="#f4b04a" stroke-width="1.5" stroke-dasharray="5.6 5.3"/>
<path d="M424.10 507.70V503.50M395.80 485.62H400.00M452.40 507.70V503.50M395.80 463.54H400.00M480.70 507.70V503.50M395.80 441.46H400.00M509.00 507.70V503.50M395.80 419.38H400.00M537.30 507.70V503.50M395.80 397.30H400.00M565.60 507.70V503.50M395.80 375.22H400.00M593.90 507.70V503.50M395.80 353.14H400.00M622.20 507.70V503.50M395.80 331.06H400.00M650.50 507.70V503.50M395.80 308.98H400.00" stroke="#000" stroke-width="2.2" fill="none"/>
<rect x="395.80" y="286.90" width="283.00" height="220.80" fill="none" stroke="#000" stroke-width="2.6"/>
<text class="tk" x="395.80" y="519.30" text-anchor="middle">0.0</text>
<text class="tk" x="390.80" y="510.40" text-anchor="end">0.0</text>
<text class="tk" x="424.10" y="519.30" text-anchor="middle">0.1</text>
<text class="tk" x="390.80" y="488.32" text-anchor="end">0.1</text>
<text class="tk" x="452.40" y="519.30" text-anchor="middle">0.2</text>
<text class="tk" x="390.80" y="466.24" text-anchor="end">0.2</text>
<text class="tk" x="480.70" y="519.30" text-anchor="middle">0.3</text>
<text class="tk" x="390.80" y="444.16" text-anchor="end">0.3</text>
<text class="tk" x="509.00" y="519.30" text-anchor="middle">0.4</text>
<text class="tk" x="390.80" y="422.08" text-anchor="end">0.4</text>
<text class="tk" x="537.30" y="519.30" text-anchor="middle">0.5</text>
<text class="tk" x="390.80" y="400.00" text-anchor="end">0.5</text>
<text class="tk" x="565.60" y="519.30" text-anchor="middle">0.6</text>
<text class="tk" x="390.80" y="377.92" text-anchor="end">0.6</text>
<text class="tk" x="593.90" y="519.30" text-anchor="middle">0.7</text>
<text class="tk" x="390.80" y="355.84" text-anchor="end">0.7</text>
<text class="tk" x="622.20" y="519.30" text-anchor="middle">0.8</text>
<text class="tk" x="390.80" y="333.76" text-anchor="end">0.8</text>
<text class="tk" x="650.50" y="519.30" text-anchor="middle">0.9</text>
<text class="tk" x="390.80" y="311.68" text-anchor="end">0.9</text>
<text class="tk" x="678.80" y="519.30" text-anchor="middle">1.0</text>
<text class="tk" x="390.80" y="289.60" text-anchor="end">1.0</text>
<path d="M611.10 395.70H628.30" stroke="#413f3d" stroke-width="2.00"/>
<path d="M611.10 404.30H628.30" stroke="#e32a27" stroke-width="2.00"/>
<path d="M611.10 415.00H628.30" stroke="#2a5bab" stroke-width="2.00"/>
<path d="M611.10 423.80H628.30" stroke="#1aa358" stroke-width="2.00"/>
<text class="lg" x="629.80" y="398.10" style="font-size:9.00px">Dis<tspan dx="0.50" dy="0.90" style="font-size:5.60px;font-style:normal">1</tspan></text>
<text class="lg" x="629.80" y="406.70" style="font-size:9.00px">Dis<tspan dx="0.50" dy="0.90" style="font-size:5.60px;font-style:normal">2</tspan></text>
<text class="lg" x="629.80" y="417.20" style="font-size:9.00px">Dis<tspan dx="0.60" dy="-3.10" style="font-size:6.60px;letter-spacing:0.10px;font-weight:bold">L−IF*</tspan></text>
<text class="lg" x="629.10" y="425.50" style="font-size:8.55px">ϱ<tspan dx="0.30" dy="0.80" style="font-size:5.60px;letter-spacing:1.30px;font-weight:bold">FSR−FMP</tspan></text>
<path d="M630.40 420.50q0.60 -0.90 1.30 -0.30t1.30 -0.30" fill="none" stroke="#222" stroke-width="0.55"/>
<rect x="568.40" y="429.50" width="91.90" height="61.70" fill="#fff"/>
<clipPath id="icd"><rect x="568.40" y="429.50" width="91.90" height="61.70"/></clipPath>
<g clip-path="url(#icd)" fill="none" stroke-width="0.80">
<path stroke="#413f3d" d="M554.25 437.52L555.41 437.28L556.58 437.05L557.77 436.82L558.96 436.59L560.17 436.36L561.39 436.14L562.63 435.92L563.87 435.70L565.13 435.49L566.40 435.28L567.68 435.07L568.97 434.86L570.27 434.66L571.59 434.46L572.92 434.26L574.26 434.07L575.61 433.88L576.97 433.69L578.35 433.51L579.74 433.32L581.13 433.14L582.55 432.97L583.97 432.79L585.40 432.62L586.85 432.45L588.31 432.29L589.78 432.13L591.26 431.97L592.76 431.81L594.27 431.66L595.78 431.50L597.31 431.36L598.86 431.21L600.41 431.07L601.98 430.93L603.56 430.79L605.15 430.66L606.75 430.53L608.36 430.40L609.99 430.28L611.63 430.15L613.28 430.04L614.94 429.92L616.62 429.81L618.30 429.70L620.00 429.59L621.71 429.48L623.44 429.38L625.17 429.28L626.92 429.19L628.68 429.10L630.45 429.01L632.23 428.92L634.02 428.83L635.83 428.75L637.65 428.67L639.48 428.60L641.32 428.53L643.18 428.46L645.05 428.39L646.93 428.33L648.82 428.27L650.72 428.21L652.64 428.15L654.56 428.10L656.50 428.05L658.45 428.01L658.56 428.00L661.17 428.05L663.79 428.10L666.40 428.15L669.02 428.20L671.63 428.25L674.25 428.30L676.86 428.34L679.48 428.39"/>
<path stroke="#e32a27" d="M554.11 442.39L555.18 442.09L556.26 441.79L557.34 441.50L558.44 441.20L559.55 440.91L560.67 440.63L561.79 440.34L562.93 440.06L564.08 439.78L565.25 439.50L566.42 439.23L567.60 438.96L568.79 438.69L570.00 438.42L571.22 438.16L572.44 437.89L573.68 437.64L574.93 437.38L576.19 437.13L577.46 436.88L578.75 436.63L580.04 436.38L581.35 436.14L582.66 435.90L583.99 435.67L585.33 435.43L586.69 435.20L588.05 434.97L589.43 434.75L590.81 434.53L592.21 434.31L593.62 434.09L595.05 433.88L596.48 433.66L597.93 433.46L599.39 433.25L600.86 433.05L602.34 432.85L603.84 432.65L605.35 432.46L606.87 432.27L608.40 432.08L609.95 431.90L611.50 431.72L613.07 431.54L614.66 431.36L616.25 431.19L617.86 431.02L619.48 430.86L621.12 430.69L622.76 430.53L624.42 430.38L626.09 430.22L627.78 430.07L629.48 429.93L631.19 429.78L632.91 429.64L634.65 429.50L636.40 429.37L638.17 429.24L639.94 429.11L641.74 428.98L643.54 428.86L645.36 428.74L647.19 428.63L649.03 428.52L650.89 428.41L652.76 428.30L654.65 428.20L656.55 428.10L658.46 428.01L658.52 428.01L660.99 428.12L663.47 428.22L665.95 428.32L668.44 428.42L670.94 428.52L673.44 428.62L675.95 428.72L678.46 428.81"/>
<path stroke="#2a5bab" d="M553.73 464.92L554.78 464.66L555.83 464.41L556.89 464.16L557.96 463.92L559.05 463.67L560.14 463.43L561.24 463.19L562.36 462.95L563.48 462.72L564.62 462.49L565.76 462.26L566.92 462.03L568.09 461.81L569.26 461.58L570.45 461.36L571.65 461.15L572.86 460.93L574.08 460.72L575.31 460.51L576.55 460.31L577.81 460.10L579.07 459.90L580.34 459.70L581.63 459.51L582.93 459.32L584.23 459.13L585.55 458.94L586.88 458.75L588.22 458.57L589.58 458.39L590.94 458.21L592.32 458.04L593.70 457.87L595.10 457.70L596.51 457.53L597.93 457.37L599.36 457.21L600.80 457.05L602.26 456.90L603.72 456.75L605.20 456.60L606.69 456.45L608.19 456.31L609.70 456.17L611.23 456.03L612.77 455.89L614.31 455.76L615.87 455.63L617.44 455.51L619.03 455.38L620.62 455.26L622.23 455.14L623.85 455.03L625.48 454.92L627.13 454.81L628.78 454.70L630.45 454.60L632.13 454.50L633.82 454.40L635.53 454.31L637.25 454.22L638.98 454.13L640.72 454.04L642.47 453.96L644.24 453.88L646.02 453.80L647.81 453.73L649.61 453.66L651.43 453.59L653.26 453.53L655.10 453.47L656.96 453.41L658.82 453.35L658.80 453.34L659.33 453.34L659.86 453.34L660.39 453.34L660.92 453.34L661.44 453.34L661.97 453.34L662.50 453.34L663.03 453.34L663.56 453.34L664.09 453.34L664.62 453.34L665.15 453.34L665.67 453.34L666.20 453.34L666.73 453.34L667.26 453.34L667.79 453.34L668.32 453.34L668.85 453.34L669.38 453.34L669.91 453.34L670.43 453.34L670.96 453.34L671.49 453.34L672.02 453.34L672.55 453.34L673.08 453.34L673.61 453.34L674.14 453.34L674.66 453.34L675.19 453.34L675.72 453.34L676.25 453.34L676.78 453.34L677.31 453.34L677.84 453.34L678.37 453.34L678.90 453.34L679.42 453.34"/>
<path stroke="#1aa358" d="M553.71 490.98L554.34 490.72L554.97 490.46L555.60 490.19L556.24 489.93L556.88 489.67L557.51 489.41L558.16 489.16L558.80 488.90L559.45 488.64L560.09 488.38L560.74 488.12L561.40 487.87L562.05 487.61L562.71 487.36L563.37 487.10L564.03 486.85L564.69 486.59L565.36 486.34L566.03 486.09L566.70 485.84L567.38 485.59L568.05 485.34L568.73 485.09L569.42 484.84L570.10 484.59L570.79 484.34L571.48 484.09L572.18 483.85L572.87 483.60L573.57 483.36L574.28 483.11L574.98 482.87L575.69 482.63L576.40 482.38L577.12 482.14L577.84 481.90L578.56 481.66L579.29 481.42L580.02 481.19L580.75 480.95L581.49 480.71L582.23 480.48L582.97 480.24L583.72 480.01L584.47 479.78L585.22 479.54L585.98 479.31L586.74 479.08L587.50 478.85L588.27 478.63L589.05 478.40L589.82 478.17L590.60 477.95L591.39 477.72L592.18 477.50L592.97 477.28L593.77 477.06L594.57 476.83L595.38 476.62L596.19 476.40L597.00 476.18L597.82 475.96L598.64 475.75L599.47 475.53L600.30 475.32L601.14 475.11L601.98 474.90L602.82 474.69L603.67 474.48L604.53 474.27L605.38 474.06L606.25 473.86L607.12 473.65L607.99 473.45L608.87 473.25L609.75 473.05L610.64 472.85L611.53 472.65L612.43 472.45L613.34 472.26L614.24 472.06L615.16 471.87L616.08 471.68L617.00 471.49L617.93 471.30L618.86 471.11L619.80 470.92L620.75 470.74L621.70 470.55L622.66 470.37L623.62 470.19L624.59 470.01L625.56 469.83L626.54 469.65L627.52 469.48L628.51 469.30L629.51 469.13L630.51 468.95L631.52 468.78L632.53 468.62L633.55 468.45L634.58 468.28L635.61 468.12L636.65 467.95L637.69 467.79L638.74 467.63L639.79 467.47L640.86 467.31L641.93 467.16L643.00 467.00L644.08 466.85L645.17 466.70L646.26 466.55L647.36 466.40L648.47 466.25L649.58 466.11L650.70 465.97L651.83 465.82L652.96 465.68L654.10 465.55L655.25 465.41L656.40 465.27L657.56 465.14L658.73 465.01L658.80 464.93"/>
</g>
<path d="M644.90 470.20H648.80" stroke="#444" stroke-width="0.50"/>
<path d="M644.90 472.40H648.80" stroke="#e33" stroke-width="0.50"/>
<path d="M644.90 475.00H648.80" stroke="#47c" stroke-width="0.60"/>
<path d="M644.90 477.50H648.80" stroke="#3a6" stroke-width="0.50"/>
<text class="ilg" x="649.40" y="470.84" style="font-size:2.40px">Dis<tspan dx="0.13" dy="0.24" style="font-size:1.49px;font-style:normal">1</tspan></text>
<text class="ilg" x="649.40" y="473.04" style="font-size:2.40px">Dis<tspan dx="0.13" dy="0.24" style="font-size:1.49px;font-style:normal">2</tspan></text>
<text class="ilg" x="649.40" y="475.59" style="font-size:2.40px">Dis<tspan dx="0.16" dy="-0.83" style="font-size:1.76px;letter-spacing:0.03px;font-weight:bold">L−IF*</tspan></text>
<text class="ilg" x="649.21" y="477.95" style="font-size:2.28px">ϱ<tspan dx="0.08" dy="0.21" style="font-size:1.49px;letter-spacing:0.35px;font-weight:bold">FSR−FMP</tspan></text>
<path d="M649.56 476.62q0.16 -0.24 0.35 -0.08t0.35 -0.08" fill="none" stroke="#222" stroke-width="0.15"/>
<path d="M574.40 491.20V490.00M582.84 491.20V490.00M591.28 491.20V490.00M599.72 491.20V490.00M608.16 491.20V490.00M616.60 491.20V490.00M625.04 491.20V490.00M633.48 491.20V490.00M641.92 491.20V490.00M650.36 491.20V490.00M658.80 491.20V490.00M568.40 483.16H569.60M568.40 475.20H569.60M568.40 467.24H569.60M568.40 459.28H569.60M568.40 451.32H569.60M568.40 443.36H569.60M568.40 435.40H569.60" stroke="#222" stroke-width="0.6" fill="none"/>
<rect x="568.40" y="429.50" width="91.90" height="61.70" fill="none" stroke="#222" stroke-width="0.90"/>
<text class="itk" x="574.40" y="494.60" text-anchor="middle" style="font-size:2.90px">0.30</text>
<text class="itk" x="582.84" y="494.60" text-anchor="middle" style="font-size:2.90px">0.32</text>
<text class="itk" x="591.28" y="494.60" text-anchor="middle" style="font-size:2.90px">0.34</text>
<text class="itk" x="599.72" y="494.60" text-anchor="middle" style="font-size:2.90px">0.36</text>
<text class="itk" x="608.16" y="494.60" text-anchor="middle" style="font-size:2.90px">0.38</text>
<text class="itk" x="616.60" y="494.60" text-anchor="middle" style="font-size:2.90px">0.40</text>
<text class="itk" x="625.04" y="494.60" text-anchor="middle" style="font-size:2.90px">0.42</text>
<text class="itk" x="633.48" y="494.60" text-anchor="middle" style="font-size:2.90px">0.44</text>
<text class="itk" x="641.92" y="494.60" text-anchor="middle" style="font-size:2.90px">0.46</text>
<text class="itk" x="650.36" y="494.60" text-anchor="middle" style="font-size:2.90px">0.48</text>
<text class="itk" x="658.80" y="494.60" text-anchor="middle" style="font-size:2.90px">0.50</text>
<text class="itk" x="567.20" y="484.12" text-anchor="end" style="font-size:2.90px">0.3</text>
<text class="itk" x="567.20" y="476.16" text-anchor="end" style="font-size:2.90px">0.4</text>
<text class="itk" x="567.20" y="468.20" text-anchor="end" style="font-size:2.90px">0.5</text>
<text class="itk" x="567.20" y="460.24" text-anchor="end" style="font-size:2.90px">0.6</text>
<text class="itk" x="567.20" y="452.28" text-anchor="end" style="font-size:2.90px">0.7</text>
<text class="itk" x="567.20" y="444.32" text-anchor="end" style="font-size:2.90px">0.8</text>
<text class="itk" x="567.20" y="436.36" text-anchor="end" style="font-size:2.90px">0.9</text>
<text class="ixl" x="614.50" y="498.60" text-anchor="middle" style="font-size:3.00px">varying variance parameter</text>
<text class="ixl" transform="translate(562.00 460.00) rotate(-90)" x="0" y="0" text-anchor="middle" textLength="55.0" lengthAdjust="spacingAndGlyphs" style="font-size:2.80px">Upper bound of our utilitarian degree function</text>
<path d="M541.20 404.60L556.78 419.70" stroke="#111" stroke-width="1.1" fill="none"/>
<path d="M560.80 423.60L554.67 420.44L557.45 417.57Z" fill="#111"/>
<g transform="translate(12.20 121.80) rotate(-90)">
<text class="yl" x="-0.3" y="0">λ</text>
<text class="yl" x="8.20" y="-5.40" style="font-size:9px">L</text>
<text class="yl" x="7.30" y="3.70" style="font-size:10px;letter-spacing:2.2px">IF</text>
</g>
<g transform="translate(369.60 117.80) rotate(-90)">
<text class="yl" x="-0.3" y="0">λ</text>
<text class="yl" x="7.60" y="-5.40" style="font-size:9px">U</text>
<text class="yl" x="7.30" y="3.70" style="font-size:10px;letter-spacing:2.2px">IF</text>
</g>
<g transform="translate(18.10 405.90) rotate(-90)">
<text class="yl" x="-0.3" y="0">κ</text>
<text class="yl" x="8.20" y="-5.40" style="font-size:9px">L</text>
<text class="yl" x="7.30" y="3.70" style="font-size:10px;letter-spacing:2.2px">IF</text>
</g>
<g transform="translate(370.10 403.70) rotate(-90)">
<text class="yl" x="-0.3" y="0">κ</text>
<text class="yl" x="7.60" y="-5.40" style="font-size:9px">U</text>
<text class="yl" x="7.30" y="3.70" style="font-size:10px;letter-spacing:2.2px">IF</text>
</g>
<text class="cap" x="106.60" y="257.10">(a)</text>
<text class="cap" x="124.30" y="257.10" textLength="120.6" lengthAdjust="spacingAndGlyphs">varying variance parameter</text>
<text class="cap sig" x="248.70" y="256.80">σ</text>
<text class="cap" x="456.30" y="255.10">(b)</text>
<text class="cap" x="476.60" y="255.10" textLength="120.6" lengthAdjust="spacingAndGlyphs">varying variance parameter</text>
<text class="cap sig" x="602.20" y="254.80">σ</text>
<text class="cap" x="107.90" y="537.10">(c)</text>
<text class="cap" x="127.60" y="537.10" textLength="120.6" lengthAdjust="spacingAndGlyphs">varying variance parameter</text>
<text class="cap sig" x="251.50" y="536.80">σ</text>
<text class="cap" x="456.60" y="537.10">(d)</text>
<text class="cap" x="476.30" y="537.10" textLength="120.6" lengthAdjust="spacingAndGlyphs">varying variance parameter</text>
<text class="cap sig" x="599.70" y="536.80">σ</text>
</svg></body></html>
